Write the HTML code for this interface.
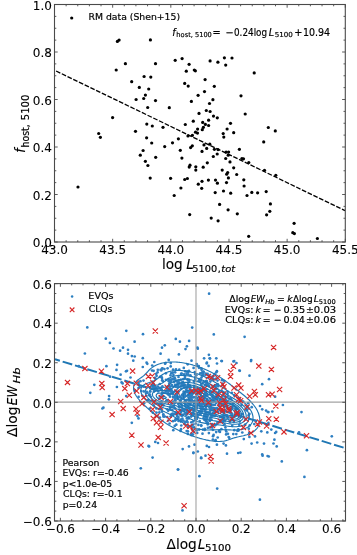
<!DOCTYPE html><html><head><meta charset="utf-8"><style>html,body{margin:0;padding:0;background:#fff;overflow:hidden}svg{display:block}</style></head><body><svg width="357" height="555" viewBox="0 0 357 555" font-family="'DejaVu Sans', sans-serif"><path d="M55 70.5L345 210.6" stroke="#000" stroke-width="1.3" stroke-dasharray="4.7 1.65" stroke-dashoffset="5.15" fill="none"/>
<g fill="#000"><circle cx="117.4" cy="41.4" r="1.6"/><circle cx="119.1" cy="40.1" r="1.6"/><circle cx="125.4" cy="63.7" r="1.6"/><circle cx="116.2" cy="70" r="1.6"/><circle cx="112.6" cy="117.6" r="1.6"/><circle cx="98.7" cy="133.5" r="1.6"/><circle cx="100.4" cy="137.3" r="1.6"/><circle cx="78" cy="187" r="1.6"/><circle cx="150.4" cy="39.9" r="1.6"/><circle cx="155.5" cy="63.7" r="1.6"/><circle cx="175.2" cy="60.3" r="1.6"/><circle cx="182.1" cy="58.6" r="1.6"/><circle cx="189.1" cy="64.3" r="1.6"/><circle cx="186.3" cy="71.2" r="1.6"/><circle cx="194.3" cy="70" r="1.6"/><circle cx="195.4" cy="70.8" r="1.6"/><circle cx="144.1" cy="76.5" r="1.6"/><circle cx="150.8" cy="77.1" r="1.6"/><circle cx="131.7" cy="81.7" r="1.6"/><circle cx="184.7" cy="83.4" r="1.6"/><circle cx="188.2" cy="86.1" r="1.6"/><circle cx="139.3" cy="87.4" r="1.6"/><circle cx="148.7" cy="89" r="1.6"/><circle cx="145.4" cy="95.1" r="1.6"/><circle cx="136.1" cy="99.5" r="1.6"/><circle cx="143.7" cy="98.5" r="1.6"/><circle cx="155.5" cy="100.6" r="1.6"/><circle cx="198.1" cy="95.3" r="1.6"/><circle cx="191.4" cy="101.4" r="1.6"/><circle cx="147.7" cy="107.5" r="1.6"/><circle cx="169.3" cy="107.7" r="1.6"/><circle cx="199" cy="113.4" r="1.6"/><circle cx="146.8" cy="124.1" r="1.6"/><circle cx="152.3" cy="126" r="1.6"/><circle cx="163" cy="127.3" r="1.6"/><circle cx="185.3" cy="124.5" r="1.6"/><circle cx="193.3" cy="121.2" r="1.6"/><circle cx="135.5" cy="131.3" r="1.6"/><circle cx="146.6" cy="137.8" r="1.6"/><circle cx="178.4" cy="138.8" r="1.6"/><circle cx="188" cy="135.9" r="1.6"/><circle cx="192.4" cy="135.3" r="1.6"/><circle cx="197.6" cy="129.1" r="1.6"/><circle cx="195.5" cy="132.2" r="1.6"/><circle cx="197.5" cy="133.1" r="1.6"/><circle cx="151.7" cy="143" r="1.6"/><circle cx="164.7" cy="146.6" r="1.6"/><circle cx="172.5" cy="142.8" r="1.6"/><circle cx="143.1" cy="150.5" r="1.6"/><circle cx="140.3" cy="155.2" r="1.6"/><circle cx="155.7" cy="157.3" r="1.6"/><circle cx="180.3" cy="150.3" r="1.6"/><circle cx="181.9" cy="158.1" r="1.6"/><circle cx="190.6" cy="147.6" r="1.6"/><circle cx="192.3" cy="145.8" r="1.6"/><circle cx="145.4" cy="161.3" r="1.6"/><circle cx="147.9" cy="165.5" r="1.6"/><circle cx="189.2" cy="167.1" r="1.6"/><circle cx="190" cy="165.2" r="1.6"/><circle cx="195.8" cy="166.8" r="1.6"/><circle cx="195.8" cy="170.1" r="1.6"/><circle cx="150.2" cy="178.1" r="1.6"/><circle cx="170.6" cy="178.3" r="1.6"/><circle cx="184.7" cy="179.5" r="1.6"/><circle cx="187.4" cy="178.5" r="1.6"/><circle cx="198.3" cy="184.2" r="1.6"/><circle cx="180.9" cy="188" r="1.6"/><circle cx="174.2" cy="195.5" r="1.6"/><circle cx="189.7" cy="214.6" r="1.6"/><circle cx="210.1" cy="60.9" r="1.6"/><circle cx="217.9" cy="62.2" r="1.6"/><circle cx="224.4" cy="57.8" r="1.6"/><circle cx="232" cy="58" r="1.6"/><circle cx="225.7" cy="65.1" r="1.6"/><circle cx="254.2" cy="72.9" r="1.6"/><circle cx="205.1" cy="79.6" r="1.6"/><circle cx="214.3" cy="86.3" r="1.6"/><circle cx="204.5" cy="91.6" r="1.6"/><circle cx="241" cy="95.8" r="1.6"/><circle cx="212.9" cy="99.7" r="1.6"/><circle cx="209.5" cy="103.5" r="1.6"/><circle cx="206.3" cy="110.5" r="1.6"/><circle cx="210.1" cy="111.5" r="1.6"/><circle cx="245.2" cy="114" r="1.6"/><circle cx="213.5" cy="116.1" r="1.6"/><circle cx="217.3" cy="117.8" r="1.6"/><circle cx="208.6" cy="120.2" r="1.6"/><circle cx="202.7" cy="122.4" r="1.6"/><circle cx="205.4" cy="124.4" r="1.6"/><circle cx="208.6" cy="125.5" r="1.6"/><circle cx="203.4" cy="127.3" r="1.6"/><circle cx="202.3" cy="129.7" r="1.6"/><circle cx="230.5" cy="123.3" r="1.6"/><circle cx="227.1" cy="129" r="1.6"/><circle cx="233.7" cy="132.7" r="1.6"/><circle cx="223.2" cy="133.6" r="1.6"/><circle cx="223.8" cy="137.1" r="1.6"/><circle cx="268.3" cy="127.5" r="1.6"/><circle cx="204" cy="144.9" r="1.6"/><circle cx="209.8" cy="144.2" r="1.6"/><circle cx="206.7" cy="148.4" r="1.6"/><circle cx="202" cy="151.4" r="1.6"/><circle cx="214.4" cy="149.3" r="1.6"/><circle cx="218" cy="149.6" r="1.6"/><circle cx="217.2" cy="154" r="1.6"/><circle cx="213.3" cy="156.5" r="1.6"/><circle cx="226.1" cy="152.1" r="1.6"/><circle cx="228.6" cy="152" r="1.6"/><circle cx="228.2" cy="155.2" r="1.6"/><circle cx="225.7" cy="158.5" r="1.6"/><circle cx="230" cy="161.9" r="1.6"/><circle cx="207.3" cy="162.8" r="1.6"/><circle cx="263.7" cy="141.9" r="1.6"/><circle cx="239.4" cy="149.3" r="1.6"/><circle cx="241.9" cy="158.5" r="1.6"/><circle cx="243.5" cy="158.8" r="1.6"/><circle cx="248.8" cy="162.5" r="1.6"/><circle cx="203.2" cy="167.2" r="1.6"/><circle cx="222.2" cy="170.1" r="1.6"/><circle cx="227.7" cy="172.5" r="1.6"/><circle cx="226.7" cy="174.2" r="1.6"/><circle cx="233.7" cy="167.8" r="1.6"/><circle cx="228.4" cy="177.9" r="1.6"/><circle cx="202" cy="181.3" r="1.6"/><circle cx="208.4" cy="180.1" r="1.6"/><circle cx="215.5" cy="180.1" r="1.6"/><circle cx="217.4" cy="183.2" r="1.6"/><circle cx="226.5" cy="182.6" r="1.6"/><circle cx="201.7" cy="188.3" r="1.6"/><circle cx="215.2" cy="192.6" r="1.6"/><circle cx="223.5" cy="191" r="1.6"/><circle cx="230.7" cy="193.2" r="1.6"/><circle cx="219.6" cy="204.4" r="1.6"/><circle cx="228.1" cy="209.8" r="1.6"/><circle cx="237.3" cy="213.8" r="1.6"/><circle cx="211.2" cy="218.1" r="1.6"/><circle cx="218.1" cy="220.8" r="1.6"/><circle cx="236.7" cy="174.5" r="1.6"/><circle cx="243.8" cy="179.8" r="1.6"/><circle cx="244.1" cy="186" r="1.6"/><circle cx="264.5" cy="170.3" r="1.6"/><circle cx="247" cy="195.5" r="1.6"/><circle cx="251.8" cy="192.4" r="1.6"/><circle cx="257.6" cy="192.8" r="1.6"/><circle cx="266.2" cy="191.6" r="1.6"/><circle cx="270.4" cy="203.9" r="1.6"/><circle cx="269.8" cy="211.3" r="1.6"/><circle cx="266.6" cy="214.8" r="1.6"/><circle cx="248.7" cy="236.3" r="1.6"/><circle cx="275.3" cy="130.9" r="1.6"/><circle cx="275.8" cy="175.3" r="1.6"/><circle cx="294.1" cy="223.3" r="1.6"/><circle cx="292.8" cy="232.7" r="1.6"/><circle cx="294.4" cy="233.6" r="1.6"/><circle cx="317.4" cy="238.5" r="1.6"/></g>
<path d="M54.50 242.0v-3.2M54.50 4.5v3.2M112.66 242.0v-3.2M112.66 4.5v3.2M170.82 242.0v-3.2M170.82 4.5v3.2M228.98 242.0v-3.2M228.98 4.5v3.2M287.14 242.0v-3.2M287.14 4.5v3.2M345.30 242.0v-3.2M345.30 4.5v3.2" stroke="#4a4a4a" stroke-width="0.9" fill="none"/>
<path d="M66.13 242.0v-1.8M66.13 4.5v1.8M77.76 242.0v-1.8M77.76 4.5v1.8M89.40 242.0v-1.8M89.40 4.5v1.8M101.03 242.0v-1.8M101.03 4.5v1.8M124.29 242.0v-1.8M124.29 4.5v1.8M135.92 242.0v-1.8M135.92 4.5v1.8M147.56 242.0v-1.8M147.56 4.5v1.8M159.19 242.0v-1.8M159.19 4.5v1.8M182.45 242.0v-1.8M182.45 4.5v1.8M194.08 242.0v-1.8M194.08 4.5v1.8M205.72 242.0v-1.8M205.72 4.5v1.8M217.35 242.0v-1.8M217.35 4.5v1.8M240.61 242.0v-1.8M240.61 4.5v1.8M252.24 242.0v-1.8M252.24 4.5v1.8M263.88 242.0v-1.8M263.88 4.5v1.8M275.51 242.0v-1.8M275.51 4.5v1.8M298.77 242.0v-1.8M298.77 4.5v1.8M310.40 242.0v-1.8M310.40 4.5v1.8M322.04 242.0v-1.8M322.04 4.5v1.8M333.67 242.0v-1.8M333.67 4.5v1.8" stroke="#4a4a4a" stroke-width="0.9" fill="none"/>
<path d="M54.5 242.00h3.2M345.3 242.00h-3.2M54.5 194.50h3.2M345.3 194.50h-3.2M54.5 147.00h3.2M345.3 147.00h-3.2M54.5 99.50h3.2M345.3 99.50h-3.2M54.5 52.00h3.2M345.3 52.00h-3.2M54.5 4.50h3.2M345.3 4.50h-3.2" stroke="#4a4a4a" stroke-width="0.9" fill="none"/>
<path d="M54.5 230.12h1.8M345.3 230.12h-1.8M54.5 218.25h1.8M345.3 218.25h-1.8M54.5 206.38h1.8M345.3 206.38h-1.8M54.5 182.62h1.8M345.3 182.62h-1.8M54.5 170.75h1.8M345.3 170.75h-1.8M54.5 158.88h1.8M345.3 158.88h-1.8M54.5 135.12h1.8M345.3 135.12h-1.8M54.5 123.25h1.8M345.3 123.25h-1.8M54.5 111.38h1.8M345.3 111.38h-1.8M54.5 87.62h1.8M345.3 87.62h-1.8M54.5 75.75h1.8M345.3 75.75h-1.8M54.5 63.88h1.8M345.3 63.88h-1.8M54.5 40.12h1.8M345.3 40.12h-1.8M54.5 28.25h1.8M345.3 28.25h-1.8M54.5 16.37h1.8M345.3 16.37h-1.8" stroke="#4a4a4a" stroke-width="0.9" fill="none"/>
<text x="54.50" y="254.30" font-size="12" text-anchor="middle" stroke="#000" stroke-width="0.1" >43.0</text>
<text x="112.66" y="254.30" font-size="12" text-anchor="middle" stroke="#000" stroke-width="0.1" >43.5</text>
<text x="170.82" y="254.30" font-size="12" text-anchor="middle" stroke="#000" stroke-width="0.1" >44.0</text>
<text x="228.98" y="254.30" font-size="12" text-anchor="middle" stroke="#000" stroke-width="0.1" >44.5</text>
<text x="287.14" y="254.30" font-size="12" text-anchor="middle" stroke="#000" stroke-width="0.1" >45.0</text>
<text x="345.30" y="254.30" font-size="12" text-anchor="middle" stroke="#000" stroke-width="0.1" >45.5</text>
<text x="51.90" y="247.00" font-size="12" text-anchor="end" stroke="#000" stroke-width="0.1" >0.0</text>
<text x="51.90" y="199.50" font-size="12" text-anchor="end" stroke="#000" stroke-width="0.1" >0.2</text>
<text x="51.90" y="152.00" font-size="12" text-anchor="end" stroke="#000" stroke-width="0.1" >0.4</text>
<text x="51.90" y="104.50" font-size="12" text-anchor="end" stroke="#000" stroke-width="0.1" >0.6</text>
<text x="51.90" y="57.00" font-size="12" text-anchor="end" stroke="#000" stroke-width="0.1" >0.8</text>
<text x="51.90" y="9.50" font-size="12" text-anchor="end" stroke="#000" stroke-width="0.1" >1.0</text>
<circle cx="71.7" cy="18" r="1.6" fill="#000"/>
<text x="88.49" y="20.20" font-size="9.2" stroke="#000" stroke-width="0.18" textLength="91.59" lengthAdjust="spacingAndGlyphs">RM data (Shen+15)</text>
<text x="172.15" y="35.60" font-size="9.7" font-style="italic" stroke="#000" stroke-width="0.18" textLength="3.42" lengthAdjust="spacingAndGlyphs">f</text>
<text x="176.29" y="37.30" font-size="6.8" stroke="#000" stroke-width="0.18" textLength="16.66" lengthAdjust="spacingAndGlyphs">host,</text>
<text x="195.09" y="37.30" font-size="6.8" stroke="#000" stroke-width="0.18" textLength="16.74" lengthAdjust="spacingAndGlyphs">5100</text>
<text x="212.58" y="35.60" font-size="9.7" stroke="#000" stroke-width="0.18" textLength="8.13" lengthAdjust="spacingAndGlyphs">=</text>
<text x="225.58" y="35.60" font-size="9.7" stroke="#000" stroke-width="0.18" textLength="8.13" lengthAdjust="spacingAndGlyphs">−</text>
<text x="234.03" y="35.60" font-size="9.7" stroke="#000" stroke-width="0.18" textLength="33.05" lengthAdjust="spacingAndGlyphs">0.24log</text>
<text x="268.83" y="35.60" font-size="9.7" font-style="italic" stroke="#000" stroke-width="0.18" textLength="5.40" lengthAdjust="spacingAndGlyphs">L</text>
<text x="274.65" y="37.30" font-size="6.8" stroke="#000" stroke-width="0.18" textLength="18.11" lengthAdjust="spacingAndGlyphs">5100</text>
<text x="294.18" y="35.60" font-size="9.7" stroke="#000" stroke-width="0.18" textLength="8.13" lengthAdjust="spacingAndGlyphs">+</text>
<text x="302.96" y="35.60" font-size="9.7" stroke="#000" stroke-width="0.18" textLength="27.17" lengthAdjust="spacingAndGlyphs">10.94</text>
<text x="161.90" y="268.60" font-size="13.6" stroke="#000" stroke-width="0.1" textLength="20.82" lengthAdjust="spacingAndGlyphs">log</text>
<text x="186.23" y="268.60" font-size="13.6" font-style="italic" stroke="#000" stroke-width="0.1" textLength="7.58" lengthAdjust="spacingAndGlyphs">L</text>
<text x="192.34" y="272.10" font-size="9.5" stroke="#000" stroke-width="0.18" textLength="24.89" lengthAdjust="spacingAndGlyphs">5100</text>
<text x="217.66" y="272.10" font-size="9.5" stroke="#000" stroke-width="0.18" textLength="3.02" lengthAdjust="spacingAndGlyphs">,</text>
<text x="221.36" y="272.10" font-size="9.5" font-style="italic" stroke="#000" stroke-width="0.18" textLength="13.83" lengthAdjust="spacingAndGlyphs">tot</text>
<text x="-152.84" y="25.40" font-size="13.8" font-style="italic" transform="rotate(-90)" stroke="#000" stroke-width="0.1" textLength="4.38" lengthAdjust="spacingAndGlyphs">f</text>
<text x="-147.44" y="29.40" font-size="9.7" transform="rotate(-90)" stroke="#000" stroke-width="0.18" textLength="23.14" lengthAdjust="spacingAndGlyphs">host,</text>
<text x="-120.28" y="29.40" font-size="9.7" transform="rotate(-90)" stroke="#000" stroke-width="0.18" textLength="25.64" lengthAdjust="spacingAndGlyphs">5100</text>
<rect x="54.5" y="4.5" width="290.80" height="237.50" fill="none" stroke="#4a4a4a" stroke-width="1.1"/>
<path d="M55 359.3L345.5 448.2" stroke="#1f77b4" stroke-width="2" stroke-dasharray="10 2.9" stroke-dashoffset="4.9" fill="none"/>
<g fill="#2e7fc2"><circle cx="87.3" cy="327.4" r="1.35"/><circle cx="126.3" cy="330.8" r="1.35"/><circle cx="105.8" cy="338.7" r="1.35"/><circle cx="109.9" cy="342.9" r="1.35"/><circle cx="134.6" cy="341.7" r="1.35"/><circle cx="143.0" cy="334.2" r="1.35"/><circle cx="175.8" cy="338.9" r="1.35"/><circle cx="179.9" cy="341.7" r="1.35"/><circle cx="189.1" cy="340.9" r="1.35"/><circle cx="192.2" cy="327.6" r="1.35"/><circle cx="209.1" cy="293.7" r="1.35"/><circle cx="213.8" cy="334.4" r="1.35"/><circle cx="244.6" cy="336.8" r="1.35"/><circle cx="84.9" cy="353.5" r="1.35"/><circle cx="113.5" cy="348.5" r="1.35"/><circle cx="120.1" cy="350.7" r="1.35"/><circle cx="123.0" cy="347.7" r="1.35"/><circle cx="106.4" cy="366.2" r="1.35"/><circle cx="117.1" cy="364.8" r="1.35"/><circle cx="116.5" cy="369.9" r="1.35"/><circle cx="120.6" cy="374.7" r="1.35"/><circle cx="126.0" cy="371.3" r="1.35"/><circle cx="110.1" cy="376.7" r="1.35"/><circle cx="121.6" cy="382.4" r="1.35"/><circle cx="122.6" cy="383.4" r="1.35"/><circle cx="94.3" cy="384.8" r="1.35"/><circle cx="116.9" cy="387.0" r="1.35"/><circle cx="90.3" cy="392.8" r="1.35"/><circle cx="109.1" cy="396.1" r="1.35"/><circle cx="108.9" cy="399.3" r="1.35"/><circle cx="126.2" cy="396.1" r="1.35"/><circle cx="78.8" cy="366.2" r="1.35"/><circle cx="128.0" cy="349.8" r="1.35"/><circle cx="128.0" cy="353.7" r="1.35"/><circle cx="131.9" cy="356.1" r="1.35"/><circle cx="134.7" cy="356.5" r="1.35"/><circle cx="133.3" cy="360.7" r="1.35"/><circle cx="142.8" cy="358.2" r="1.35"/><circle cx="162.0" cy="347.7" r="1.35"/><circle cx="164.8" cy="345.3" r="1.35"/><circle cx="160.6" cy="353.7" r="1.35"/><circle cx="146.6" cy="362.7" r="1.35"/><circle cx="147.3" cy="363.8" r="1.35"/><circle cx="154.3" cy="362.0" r="1.35"/><circle cx="152.2" cy="365.5" r="1.35"/><circle cx="142.8" cy="367.0" r="1.35"/><circle cx="127.0" cy="370.8" r="1.35"/><circle cx="130.5" cy="377.5" r="1.35"/><circle cx="153.6" cy="370.8" r="1.35"/><circle cx="157.8" cy="369.8" r="1.35"/><circle cx="160.6" cy="369.8" r="1.35"/><circle cx="162.0" cy="368.7" r="1.35"/><circle cx="102.4" cy="408.5" r="1.35"/><circle cx="103.4" cy="407.7" r="1.35"/><circle cx="269.0" cy="379.2" r="1.35"/><circle cx="275.1" cy="396.7" r="1.35"/><circle cx="282.9" cy="405.0" r="1.35"/><circle cx="268.4" cy="412.1" r="1.35"/><circle cx="266.1" cy="410.6" r="1.35"/><circle cx="301.5" cy="412.1" r="1.35"/><circle cx="268.4" cy="422.9" r="1.35"/><circle cx="271.3" cy="429.6" r="1.35"/><circle cx="276.2" cy="431.9" r="1.35"/><circle cx="275.1" cy="433.0" r="1.35"/><circle cx="331.8" cy="436.3" r="1.35"/><circle cx="274.4" cy="439.7" r="1.35"/><circle cx="273.5" cy="443.5" r="1.35"/><circle cx="276.7" cy="446.4" r="1.35"/><circle cx="306.9" cy="450.2" r="1.35"/><circle cx="299.0" cy="432.3" r="1.35"/><circle cx="268.8" cy="456.5" r="1.35"/><circle cx="281.8" cy="461.4" r="1.35"/><circle cx="304.4" cy="476.9" r="1.35"/><circle cx="186.9" cy="346.3" r="1.35"/><circle cx="185.5" cy="349.1" r="1.35"/><circle cx="197.4" cy="347.7" r="1.35"/><circle cx="197.8" cy="348.7" r="1.35"/><circle cx="178.9" cy="354.4" r="1.35"/><circle cx="191.5" cy="360.7" r="1.35"/><circle cx="208.9" cy="354.8" r="1.35"/><circle cx="204.1" cy="358.3" r="1.35"/><circle cx="209.7" cy="358.3" r="1.35"/><circle cx="216.3" cy="358.3" r="1.35"/><circle cx="206.9" cy="362.7" r="1.35"/><circle cx="217.0" cy="363.5" r="1.35"/><circle cx="208.6" cy="365.9" r="1.35"/><circle cx="196.7" cy="364.1" r="1.35"/><circle cx="197.4" cy="365.9" r="1.35"/><circle cx="198.8" cy="366.0" r="1.35"/><circle cx="201.6" cy="369.8" r="1.35"/><circle cx="168.7" cy="359.9" r="1.35"/><circle cx="210.0" cy="358.4" r="1.35"/><circle cx="221.4" cy="361.0" r="1.35"/><circle cx="233.5" cy="361.4" r="1.35"/><circle cx="236.5" cy="363.0" r="1.35"/><circle cx="251.2" cy="360.0" r="1.35"/><circle cx="239.4" cy="370.6" r="1.35"/><circle cx="216.9" cy="371.2" r="1.35"/><circle cx="131.8" cy="422.8" r="1.35"/><circle cx="137.4" cy="416.1" r="1.35"/><circle cx="138.5" cy="418.4" r="1.35"/><circle cx="149.1" cy="446.4" r="1.35"/><circle cx="155.3" cy="441.9" r="1.35"/><circle cx="158.0" cy="443.0" r="1.35"/><circle cx="152.6" cy="457.6" r="1.35"/><circle cx="140.8" cy="468.3" r="1.35"/><circle cx="173.3" cy="430.2" r="1.35"/><circle cx="182.7" cy="449.1" r="1.35"/><circle cx="178.2" cy="469.5" r="1.35"/><circle cx="193.4" cy="453.1" r="1.35"/><circle cx="189.0" cy="446.4" r="1.35"/><circle cx="148.5" cy="445.9" r="1.35"/><circle cx="177.9" cy="469.5" r="1.35"/><circle cx="201.1" cy="457.7" r="1.35"/><circle cx="205.5" cy="455.7" r="1.35"/><circle cx="199.4" cy="476.2" r="1.35"/><circle cx="217.2" cy="488.6" r="1.35"/><circle cx="259.9" cy="499.7" r="1.35"/><circle cx="262.6" cy="455.7" r="1.35"/><circle cx="267.6" cy="456.0" r="1.35"/><circle cx="182.5" cy="510.4" r="1.35"/><circle cx="221.9" cy="361.1" r="1.35"/><circle cx="234.2" cy="361.1" r="1.35"/><circle cx="206.7" cy="363.4" r="1.35"/><circle cx="239.8" cy="370.8" r="1.35"/><circle cx="216.3" cy="372.3" r="1.35"/><circle cx="249.5" cy="375.7" r="1.35"/><circle cx="251.0" cy="361.1" r="1.35"/><circle cx="262.2" cy="384.2" r="1.35"/><circle cx="260.0" cy="406.0" r="1.35"/><circle cx="262.2" cy="409.3" r="1.35"/><circle cx="267.8" cy="412.0" r="1.35"/><circle cx="272.3" cy="411.5" r="1.35"/><circle cx="201.2" cy="458.2" r="1.35"/><circle cx="227.0" cy="453.7" r="1.35"/><circle cx="238.2" cy="453.0" r="1.35"/><circle cx="240.4" cy="452.6" r="1.35"/><circle cx="262.2" cy="454.4" r="1.35"/><circle cx="216.9" cy="444.7" r="1.35"/><circle cx="223.6" cy="443.6" r="1.35"/><circle cx="225.9" cy="445.4" r="1.35"/><circle cx="243.8" cy="439.1" r="1.35"/><circle cx="249.4" cy="436.9" r="1.35"/><circle cx="257.2" cy="442.5" r="1.35"/><circle cx="264.0" cy="443.6" r="1.35"/><circle cx="194.5" cy="444.7" r="1.35"/><circle cx="193.4" cy="452.6" r="1.35"/><circle cx="197.8" cy="451.5" r="1.35"/><circle cx="206.8" cy="445.9" r="1.35"/><circle cx="209.0" cy="447.0" r="1.35"/><circle cx="255.0" cy="436.4" r="1.35"/><circle cx="261.3" cy="431.3" r="1.35"/><circle cx="267.3" cy="432.4" r="1.35"/><circle cx="251.6" cy="443.6" r="1.35"/><circle cx="192.2" cy="400.8" r="1.35"/><circle cx="245.5" cy="419.3" r="1.35"/><circle cx="221.4" cy="411.6" r="1.35"/><circle cx="191.9" cy="394.1" r="1.35"/><circle cx="200.5" cy="414.0" r="1.35"/><circle cx="222.7" cy="395.7" r="1.35"/><circle cx="155.6" cy="378.9" r="1.35"/><circle cx="206.7" cy="394.7" r="1.35"/><circle cx="185.2" cy="371.3" r="1.35"/><circle cx="171.0" cy="379.6" r="1.35"/><circle cx="195.0" cy="407.5" r="1.35"/><circle cx="213.5" cy="392.1" r="1.35"/><circle cx="212.5" cy="379.3" r="1.35"/><circle cx="161.7" cy="394.6" r="1.35"/><circle cx="227.1" cy="408.4" r="1.35"/><circle cx="208.8" cy="412.5" r="1.35"/><circle cx="210.3" cy="410.9" r="1.35"/><circle cx="213.2" cy="398.1" r="1.35"/><circle cx="170.7" cy="416.6" r="1.35"/><circle cx="210.4" cy="381.6" r="1.35"/><circle cx="217.0" cy="399.4" r="1.35"/><circle cx="193.6" cy="367.9" r="1.35"/><circle cx="193.2" cy="421.4" r="1.35"/><circle cx="200.7" cy="411.4" r="1.35"/><circle cx="191.9" cy="415.1" r="1.35"/><circle cx="188.3" cy="405.0" r="1.35"/><circle cx="206.8" cy="381.2" r="1.35"/><circle cx="203.1" cy="400.3" r="1.35"/><circle cx="207.2" cy="399.1" r="1.35"/><circle cx="193.9" cy="381.7" r="1.35"/><circle cx="187.7" cy="387.6" r="1.35"/><circle cx="182.4" cy="418.5" r="1.35"/><circle cx="205.5" cy="401.5" r="1.35"/><circle cx="192.4" cy="401.5" r="1.35"/><circle cx="182.7" cy="410.0" r="1.35"/><circle cx="173.0" cy="396.9" r="1.35"/><circle cx="208.3" cy="403.3" r="1.35"/><circle cx="150.3" cy="387.6" r="1.35"/><circle cx="218.9" cy="431.0" r="1.35"/><circle cx="212.6" cy="425.9" r="1.35"/><circle cx="201.6" cy="409.8" r="1.35"/><circle cx="246.6" cy="410.4" r="1.35"/><circle cx="216.8" cy="395.6" r="1.35"/><circle cx="177.8" cy="397.9" r="1.35"/><circle cx="195.2" cy="418.5" r="1.35"/><circle cx="232.4" cy="419.4" r="1.35"/><circle cx="176.1" cy="386.6" r="1.35"/><circle cx="181.3" cy="388.8" r="1.35"/><circle cx="199.9" cy="404.4" r="1.35"/><circle cx="204.8" cy="428.8" r="1.35"/><circle cx="235.6" cy="414.9" r="1.35"/><circle cx="185.3" cy="392.0" r="1.35"/><circle cx="231.2" cy="409.5" r="1.35"/><circle cx="194.8" cy="372.1" r="1.35"/><circle cx="179.7" cy="402.8" r="1.35"/><circle cx="161.3" cy="403.5" r="1.35"/><circle cx="204.2" cy="402.6" r="1.35"/><circle cx="175.8" cy="418.7" r="1.35"/><circle cx="248.6" cy="415.4" r="1.35"/><circle cx="178.5" cy="421.0" r="1.35"/><circle cx="207.4" cy="395.8" r="1.35"/><circle cx="178.3" cy="404.0" r="1.35"/><circle cx="207.2" cy="422.4" r="1.35"/><circle cx="225.0" cy="420.8" r="1.35"/><circle cx="171.4" cy="391.2" r="1.35"/><circle cx="173.0" cy="415.1" r="1.35"/><circle cx="205.0" cy="385.3" r="1.35"/><circle cx="176.0" cy="396.3" r="1.35"/><circle cx="206.9" cy="406.0" r="1.35"/><circle cx="208.9" cy="433.1" r="1.35"/><circle cx="150.9" cy="396.8" r="1.35"/><circle cx="179.9" cy="407.0" r="1.35"/><circle cx="171.5" cy="414.2" r="1.35"/><circle cx="192.8" cy="391.1" r="1.35"/><circle cx="183.4" cy="393.4" r="1.35"/><circle cx="167.2" cy="409.3" r="1.35"/><circle cx="227.7" cy="402.6" r="1.35"/><circle cx="167.5" cy="389.6" r="1.35"/><circle cx="175.3" cy="408.6" r="1.35"/><circle cx="201.9" cy="403.1" r="1.35"/><circle cx="213.0" cy="378.5" r="1.35"/><circle cx="200.1" cy="400.6" r="1.35"/><circle cx="196.9" cy="393.5" r="1.35"/><circle cx="208.2" cy="404.3" r="1.35"/><circle cx="161.0" cy="408.9" r="1.35"/><circle cx="248.8" cy="428.7" r="1.35"/><circle cx="183.6" cy="386.4" r="1.35"/><circle cx="180.9" cy="379.8" r="1.35"/><circle cx="159.2" cy="405.2" r="1.35"/><circle cx="182.5" cy="415.0" r="1.35"/><circle cx="169.9" cy="388.4" r="1.35"/><circle cx="239.5" cy="401.9" r="1.35"/><circle cx="181.1" cy="373.8" r="1.35"/><circle cx="185.7" cy="404.4" r="1.35"/><circle cx="232.4" cy="416.6" r="1.35"/><circle cx="186.3" cy="389.2" r="1.35"/><circle cx="179.4" cy="382.8" r="1.35"/><circle cx="173.0" cy="392.2" r="1.35"/><circle cx="210.3" cy="420.1" r="1.35"/><circle cx="180.7" cy="386.4" r="1.35"/><circle cx="196.8" cy="408.6" r="1.35"/><circle cx="170.5" cy="375.3" r="1.35"/><circle cx="183.7" cy="391.6" r="1.35"/><circle cx="198.6" cy="380.9" r="1.35"/><circle cx="204.3" cy="389.4" r="1.35"/><circle cx="196.5" cy="415.0" r="1.35"/><circle cx="216.3" cy="399.1" r="1.35"/><circle cx="202.8" cy="373.7" r="1.35"/><circle cx="180.8" cy="421.6" r="1.35"/><circle cx="178.4" cy="416.9" r="1.35"/><circle cx="138.6" cy="383.0" r="1.35"/><circle cx="204.1" cy="398.3" r="1.35"/><circle cx="159.0" cy="398.8" r="1.35"/><circle cx="194.7" cy="386.6" r="1.35"/><circle cx="195.1" cy="391.5" r="1.35"/><circle cx="205.3" cy="415.7" r="1.35"/><circle cx="182.4" cy="420.5" r="1.35"/><circle cx="176.5" cy="413.8" r="1.35"/><circle cx="182.5" cy="382.1" r="1.35"/><circle cx="183.3" cy="420.6" r="1.35"/><circle cx="163.3" cy="414.4" r="1.35"/><circle cx="143.5" cy="386.6" r="1.35"/><circle cx="215.6" cy="440.2" r="1.35"/><circle cx="227.5" cy="396.6" r="1.35"/><circle cx="214.6" cy="385.8" r="1.35"/><circle cx="168.1" cy="390.8" r="1.35"/><circle cx="183.4" cy="395.7" r="1.35"/><circle cx="185.0" cy="378.1" r="1.35"/><circle cx="227.7" cy="417.2" r="1.35"/><circle cx="211.6" cy="404.6" r="1.35"/><circle cx="218.1" cy="396.9" r="1.35"/><circle cx="182.2" cy="415.6" r="1.35"/><circle cx="216.6" cy="424.2" r="1.35"/><circle cx="138.6" cy="396.9" r="1.35"/><circle cx="174.4" cy="403.6" r="1.35"/><circle cx="166.7" cy="400.7" r="1.35"/><circle cx="158.3" cy="391.4" r="1.35"/><circle cx="191.2" cy="435.1" r="1.35"/><circle cx="144.3" cy="403.1" r="1.35"/><circle cx="193.9" cy="385.8" r="1.35"/><circle cx="201.8" cy="404.8" r="1.35"/><circle cx="177.6" cy="381.4" r="1.35"/><circle cx="212.7" cy="386.9" r="1.35"/><circle cx="214.4" cy="408.9" r="1.35"/><circle cx="197.1" cy="401.6" r="1.35"/><circle cx="242.2" cy="414.2" r="1.35"/><circle cx="189.4" cy="393.7" r="1.35"/><circle cx="169.6" cy="423.5" r="1.35"/><circle cx="223.3" cy="404.8" r="1.35"/><circle cx="196.5" cy="419.0" r="1.35"/><circle cx="211.7" cy="402.0" r="1.35"/><circle cx="209.1" cy="375.7" r="1.35"/><circle cx="238.5" cy="430.6" r="1.35"/><circle cx="203.3" cy="375.4" r="1.35"/><circle cx="195.2" cy="377.3" r="1.35"/><circle cx="190.2" cy="387.0" r="1.35"/><circle cx="207.7" cy="384.9" r="1.35"/><circle cx="174.9" cy="399.9" r="1.35"/><circle cx="237.4" cy="430.8" r="1.35"/><circle cx="183.2" cy="383.6" r="1.35"/><circle cx="160.3" cy="402.3" r="1.35"/><circle cx="193.8" cy="431.8" r="1.35"/><circle cx="197.3" cy="388.0" r="1.35"/><circle cx="190.3" cy="387.2" r="1.35"/><circle cx="167.6" cy="368.3" r="1.35"/><circle cx="201.7" cy="404.0" r="1.35"/><circle cx="171.2" cy="406.8" r="1.35"/><circle cx="197.4" cy="415.3" r="1.35"/><circle cx="193.3" cy="412.4" r="1.35"/><circle cx="210.1" cy="391.7" r="1.35"/><circle cx="156.4" cy="408.4" r="1.35"/><circle cx="173.8" cy="405.9" r="1.35"/><circle cx="217.9" cy="396.2" r="1.35"/><circle cx="197.1" cy="398.2" r="1.35"/><circle cx="195.9" cy="398.2" r="1.35"/><circle cx="173.1" cy="369.6" r="1.35"/><circle cx="196.2" cy="388.4" r="1.35"/><circle cx="200.0" cy="381.6" r="1.35"/><circle cx="193.3" cy="424.5" r="1.35"/><circle cx="219.1" cy="391.4" r="1.35"/><circle cx="190.8" cy="393.2" r="1.35"/><circle cx="227.6" cy="393.8" r="1.35"/><circle cx="186.0" cy="407.3" r="1.35"/><circle cx="180.6" cy="396.9" r="1.35"/><circle cx="195.4" cy="408.8" r="1.35"/><circle cx="198.9" cy="391.0" r="1.35"/><circle cx="176.7" cy="393.7" r="1.35"/><circle cx="190.5" cy="397.4" r="1.35"/><circle cx="221.6" cy="416.9" r="1.35"/><circle cx="173.0" cy="421.2" r="1.35"/><circle cx="235.7" cy="407.9" r="1.35"/><circle cx="174.7" cy="425.9" r="1.35"/><circle cx="195.8" cy="419.5" r="1.35"/><circle cx="172.9" cy="394.0" r="1.35"/><circle cx="175.1" cy="420.6" r="1.35"/><circle cx="155.1" cy="386.4" r="1.35"/><circle cx="213.0" cy="436.2" r="1.35"/><circle cx="170.0" cy="396.7" r="1.35"/><circle cx="207.0" cy="385.6" r="1.35"/><circle cx="211.8" cy="376.9" r="1.35"/><circle cx="180.5" cy="400.4" r="1.35"/><circle cx="202.0" cy="403.3" r="1.35"/><circle cx="216.2" cy="378.6" r="1.35"/><circle cx="190.5" cy="389.7" r="1.35"/><circle cx="180.4" cy="414.0" r="1.35"/><circle cx="189.3" cy="404.4" r="1.35"/><circle cx="209.6" cy="413.2" r="1.35"/><circle cx="232.2" cy="425.8" r="1.35"/><circle cx="223.8" cy="412.8" r="1.35"/><circle cx="231.2" cy="399.3" r="1.35"/><circle cx="196.3" cy="388.4" r="1.35"/><circle cx="197.5" cy="400.0" r="1.35"/><circle cx="207.6" cy="373.9" r="1.35"/><circle cx="164.4" cy="369.1" r="1.35"/><circle cx="203.0" cy="387.6" r="1.35"/><circle cx="208.1" cy="400.8" r="1.35"/><circle cx="176.7" cy="419.4" r="1.35"/><circle cx="206.3" cy="383.9" r="1.35"/><circle cx="169.2" cy="389.7" r="1.35"/><circle cx="205.9" cy="408.2" r="1.35"/><circle cx="218.1" cy="396.8" r="1.35"/><circle cx="199.0" cy="401.0" r="1.35"/><circle cx="190.6" cy="400.6" r="1.35"/><circle cx="195.0" cy="389.8" r="1.35"/><circle cx="188.9" cy="379.5" r="1.35"/><circle cx="189.1" cy="410.5" r="1.35"/><circle cx="205.5" cy="381.7" r="1.35"/><circle cx="176.5" cy="386.9" r="1.35"/><circle cx="183.0" cy="414.8" r="1.35"/><circle cx="183.6" cy="386.6" r="1.35"/><circle cx="179.8" cy="414.3" r="1.35"/><circle cx="166.9" cy="387.8" r="1.35"/><circle cx="174.7" cy="397.3" r="1.35"/><circle cx="165.1" cy="392.5" r="1.35"/><circle cx="190.3" cy="409.9" r="1.35"/><circle cx="240.6" cy="416.9" r="1.35"/><circle cx="202.2" cy="391.4" r="1.35"/><circle cx="242.3" cy="432.5" r="1.35"/><circle cx="168.0" cy="393.9" r="1.35"/><circle cx="211.6" cy="416.7" r="1.35"/><circle cx="159.9" cy="417.6" r="1.35"/><circle cx="202.6" cy="408.2" r="1.35"/><circle cx="190.8" cy="396.8" r="1.35"/><circle cx="170.6" cy="406.7" r="1.35"/><circle cx="177.1" cy="381.1" r="1.35"/><circle cx="190.0" cy="385.5" r="1.35"/><circle cx="172.8" cy="372.7" r="1.35"/><circle cx="204.7" cy="390.0" r="1.35"/><circle cx="178.5" cy="377.0" r="1.35"/><circle cx="166.0" cy="379.8" r="1.35"/><circle cx="175.8" cy="394.4" r="1.35"/><circle cx="202.7" cy="407.9" r="1.35"/><circle cx="195.8" cy="423.5" r="1.35"/><circle cx="171.7" cy="391.0" r="1.35"/><circle cx="233.3" cy="434.1" r="1.35"/><circle cx="247.3" cy="406.7" r="1.35"/><circle cx="177.0" cy="414.0" r="1.35"/><circle cx="225.5" cy="404.8" r="1.35"/><circle cx="215.1" cy="385.4" r="1.35"/><circle cx="214.9" cy="386.3" r="1.35"/><circle cx="195.7" cy="402.4" r="1.35"/><circle cx="254.3" cy="424.1" r="1.35"/><circle cx="207.9" cy="412.4" r="1.35"/><circle cx="196.9" cy="394.6" r="1.35"/><circle cx="201.5" cy="377.6" r="1.35"/><circle cx="165.9" cy="373.3" r="1.35"/><circle cx="196.5" cy="392.0" r="1.35"/><circle cx="248.2" cy="403.2" r="1.35"/><circle cx="215.5" cy="415.8" r="1.35"/><circle cx="181.0" cy="429.2" r="1.35"/><circle cx="205.9" cy="403.7" r="1.35"/><circle cx="163.6" cy="405.3" r="1.35"/><circle cx="227.6" cy="391.7" r="1.35"/><circle cx="214.0" cy="397.6" r="1.35"/><circle cx="153.5" cy="384.5" r="1.35"/><circle cx="162.1" cy="411.7" r="1.35"/><circle cx="142.5" cy="395.9" r="1.35"/><circle cx="210.7" cy="414.6" r="1.35"/><circle cx="152.0" cy="370.5" r="1.35"/><circle cx="214.6" cy="374.2" r="1.35"/><circle cx="216.5" cy="408.2" r="1.35"/><circle cx="178.8" cy="407.0" r="1.35"/><circle cx="204.8" cy="401.8" r="1.35"/><circle cx="205.7" cy="417.8" r="1.35"/><circle cx="205.7" cy="373.6" r="1.35"/><circle cx="209.1" cy="401.8" r="1.35"/><circle cx="213.0" cy="412.5" r="1.35"/><circle cx="233.9" cy="421.9" r="1.35"/><circle cx="216.3" cy="388.5" r="1.35"/><circle cx="218.8" cy="396.0" r="1.35"/><circle cx="193.1" cy="405.3" r="1.35"/><circle cx="220.4" cy="398.8" r="1.35"/><circle cx="187.8" cy="392.2" r="1.35"/><circle cx="187.7" cy="418.4" r="1.35"/><circle cx="182.2" cy="407.8" r="1.35"/><circle cx="199.0" cy="367.8" r="1.35"/><circle cx="216.4" cy="394.5" r="1.35"/><circle cx="201.4" cy="385.6" r="1.35"/><circle cx="194.6" cy="401.2" r="1.35"/><circle cx="186.8" cy="418.4" r="1.35"/><circle cx="241.5" cy="405.1" r="1.35"/><circle cx="196.3" cy="375.3" r="1.35"/><circle cx="201.4" cy="368.5" r="1.35"/><circle cx="191.3" cy="413.6" r="1.35"/><circle cx="205.6" cy="374.8" r="1.35"/><circle cx="214.9" cy="404.9" r="1.35"/><circle cx="186.5" cy="373.9" r="1.35"/><circle cx="168.6" cy="394.8" r="1.35"/><circle cx="189.5" cy="394.7" r="1.35"/><circle cx="184.8" cy="405.7" r="1.35"/><circle cx="147.6" cy="400.4" r="1.35"/><circle cx="164.8" cy="416.6" r="1.35"/><circle cx="210.0" cy="408.6" r="1.35"/><circle cx="174.6" cy="408.1" r="1.35"/><circle cx="214.3" cy="415.8" r="1.35"/><circle cx="171.9" cy="386.2" r="1.35"/><circle cx="184.0" cy="409.3" r="1.35"/><circle cx="201.3" cy="425.8" r="1.35"/><circle cx="198.5" cy="402.3" r="1.35"/><circle cx="188.7" cy="417.9" r="1.35"/><circle cx="203.6" cy="418.2" r="1.35"/><circle cx="187.6" cy="411.1" r="1.35"/><circle cx="181.3" cy="425.5" r="1.35"/><circle cx="215.4" cy="399.0" r="1.35"/><circle cx="183.8" cy="367.9" r="1.35"/><circle cx="243.2" cy="401.6" r="1.35"/><circle cx="220.1" cy="416.6" r="1.35"/><circle cx="235.9" cy="410.0" r="1.35"/><circle cx="191.6" cy="394.6" r="1.35"/><circle cx="188.0" cy="371.6" r="1.35"/><circle cx="163.6" cy="396.3" r="1.35"/><circle cx="214.0" cy="410.4" r="1.35"/><circle cx="201.0" cy="380.4" r="1.35"/><circle cx="210.7" cy="417.4" r="1.35"/><circle cx="212.2" cy="408.5" r="1.35"/><circle cx="154.3" cy="391.1" r="1.35"/><circle cx="204.8" cy="414.0" r="1.35"/><circle cx="215.5" cy="412.6" r="1.35"/><circle cx="156.2" cy="373.8" r="1.35"/><circle cx="176.0" cy="380.9" r="1.35"/><circle cx="189.5" cy="398.2" r="1.35"/><circle cx="146.8" cy="391.9" r="1.35"/><circle cx="222.4" cy="405.0" r="1.35"/><circle cx="230.7" cy="413.6" r="1.35"/><circle cx="225.4" cy="396.9" r="1.35"/><circle cx="215.1" cy="411.3" r="1.35"/><circle cx="215.2" cy="425.3" r="1.35"/><circle cx="226.3" cy="431.5" r="1.35"/><circle cx="168.7" cy="391.5" r="1.35"/><circle cx="161.6" cy="402.0" r="1.35"/><circle cx="239.7" cy="421.6" r="1.35"/><circle cx="172.0" cy="385.0" r="1.35"/><circle cx="190.4" cy="375.3" r="1.35"/><circle cx="172.2" cy="392.9" r="1.35"/><circle cx="152.6" cy="381.9" r="1.35"/><circle cx="188.1" cy="372.1" r="1.35"/><circle cx="234.8" cy="416.2" r="1.35"/><circle cx="174.1" cy="382.1" r="1.35"/><circle cx="186.2" cy="407.8" r="1.35"/><circle cx="187.9" cy="431.3" r="1.35"/><circle cx="183.3" cy="379.2" r="1.35"/><circle cx="183.2" cy="398.9" r="1.35"/><circle cx="218.3" cy="393.0" r="1.35"/><circle cx="214.9" cy="399.5" r="1.35"/><circle cx="171.4" cy="393.2" r="1.35"/><circle cx="206.1" cy="421.4" r="1.35"/><circle cx="217.6" cy="384.2" r="1.35"/><circle cx="192.5" cy="429.9" r="1.35"/><circle cx="212.9" cy="415.6" r="1.35"/><circle cx="211.4" cy="419.6" r="1.35"/><circle cx="216.6" cy="389.0" r="1.35"/><circle cx="152.0" cy="401.0" r="1.35"/><circle cx="173.6" cy="397.5" r="1.35"/><circle cx="228.7" cy="437.0" r="1.35"/><circle cx="169.6" cy="380.4" r="1.35"/><circle cx="188.8" cy="391.2" r="1.35"/><circle cx="169.8" cy="409.1" r="1.35"/><circle cx="196.5" cy="430.2" r="1.35"/><circle cx="238.8" cy="416.0" r="1.35"/><circle cx="192.8" cy="392.3" r="1.35"/><circle cx="206.1" cy="419.1" r="1.35"/><circle cx="225.4" cy="427.4" r="1.35"/><circle cx="139.6" cy="387.2" r="1.35"/><circle cx="182.0" cy="395.1" r="1.35"/><circle cx="225.4" cy="401.6" r="1.35"/><circle cx="196.5" cy="391.0" r="1.35"/><circle cx="188.3" cy="387.0" r="1.35"/><circle cx="199.2" cy="379.1" r="1.35"/><circle cx="204.2" cy="409.1" r="1.35"/><circle cx="163.3" cy="414.8" r="1.35"/><circle cx="186.3" cy="415.1" r="1.35"/><circle cx="203.2" cy="403.7" r="1.35"/><circle cx="196.1" cy="396.9" r="1.35"/><circle cx="218.3" cy="386.2" r="1.35"/><circle cx="188.5" cy="407.9" r="1.35"/><circle cx="188.0" cy="433.9" r="1.35"/><circle cx="179.2" cy="380.5" r="1.35"/><circle cx="209.4" cy="407.4" r="1.35"/><circle cx="191.1" cy="416.6" r="1.35"/><circle cx="166.9" cy="400.5" r="1.35"/><circle cx="205.2" cy="393.4" r="1.35"/><circle cx="185.8" cy="400.4" r="1.35"/><circle cx="165.7" cy="401.8" r="1.35"/><circle cx="212.1" cy="408.7" r="1.35"/><circle cx="226.9" cy="407.4" r="1.35"/><circle cx="229.2" cy="437.8" r="1.35"/><circle cx="198.4" cy="390.7" r="1.35"/><circle cx="200.7" cy="392.7" r="1.35"/><circle cx="207.2" cy="403.5" r="1.35"/><circle cx="162.1" cy="405.0" r="1.35"/><circle cx="209.8" cy="403.1" r="1.35"/><circle cx="213.7" cy="401.8" r="1.35"/><circle cx="160.6" cy="387.8" r="1.35"/><circle cx="204.7" cy="394.6" r="1.35"/><circle cx="173.1" cy="401.6" r="1.35"/><circle cx="239.4" cy="398.4" r="1.35"/><circle cx="201.1" cy="425.3" r="1.35"/><circle cx="191.5" cy="433.5" r="1.35"/><circle cx="205.5" cy="396.7" r="1.35"/><circle cx="182.8" cy="383.0" r="1.35"/><circle cx="177.9" cy="382.0" r="1.35"/><circle cx="201.5" cy="390.4" r="1.35"/><circle cx="232.3" cy="407.1" r="1.35"/><circle cx="169.8" cy="382.9" r="1.35"/><circle cx="178.1" cy="386.7" r="1.35"/><circle cx="203.3" cy="402.2" r="1.35"/><circle cx="148.0" cy="400.1" r="1.35"/><circle cx="197.8" cy="399.8" r="1.35"/><circle cx="225.8" cy="430.0" r="1.35"/><circle cx="179.1" cy="406.2" r="1.35"/><circle cx="143.7" cy="391.4" r="1.35"/><circle cx="189.0" cy="400.1" r="1.35"/><circle cx="163.4" cy="416.6" r="1.35"/><circle cx="201.5" cy="407.5" r="1.35"/><circle cx="249.4" cy="413.9" r="1.35"/><circle cx="206.9" cy="399.6" r="1.35"/><circle cx="207.1" cy="395.1" r="1.35"/><circle cx="175.7" cy="413.1" r="1.35"/><circle cx="220.0" cy="421.9" r="1.35"/><circle cx="207.6" cy="415.4" r="1.35"/><circle cx="162.0" cy="377.9" r="1.35"/><circle cx="227.1" cy="415.6" r="1.35"/><circle cx="205.7" cy="419.7" r="1.35"/><circle cx="187.9" cy="379.9" r="1.35"/><circle cx="223.6" cy="417.5" r="1.35"/><circle cx="189.0" cy="370.9" r="1.35"/><circle cx="238.7" cy="412.9" r="1.35"/><circle cx="175.5" cy="419.8" r="1.35"/><circle cx="182.0" cy="405.8" r="1.35"/><circle cx="190.5" cy="405.2" r="1.35"/><circle cx="160.0" cy="376.9" r="1.35"/><circle cx="188.0" cy="395.2" r="1.35"/><circle cx="214.7" cy="399.5" r="1.35"/><circle cx="167.8" cy="401.5" r="1.35"/><circle cx="194.2" cy="403.0" r="1.35"/><circle cx="138.5" cy="388.0" r="1.35"/><circle cx="223.1" cy="412.1" r="1.35"/><circle cx="216.2" cy="432.1" r="1.35"/><circle cx="203.6" cy="372.0" r="1.35"/><circle cx="166.3" cy="391.5" r="1.35"/><circle cx="194.7" cy="406.4" r="1.35"/><circle cx="235.9" cy="409.1" r="1.35"/><circle cx="206.9" cy="416.9" r="1.35"/><circle cx="185.9" cy="391.5" r="1.35"/><circle cx="204.7" cy="429.9" r="1.35"/><circle cx="192.9" cy="412.9" r="1.35"/><circle cx="212.6" cy="397.5" r="1.35"/><circle cx="204.7" cy="393.5" r="1.35"/><circle cx="175.7" cy="398.5" r="1.35"/><circle cx="200.7" cy="394.1" r="1.35"/><circle cx="153.7" cy="405.4" r="1.35"/><circle cx="195.2" cy="379.1" r="1.35"/><circle cx="184.4" cy="410.9" r="1.35"/><circle cx="207.0" cy="419.4" r="1.35"/><circle cx="184.6" cy="397.1" r="1.35"/><circle cx="188.9" cy="393.1" r="1.35"/><circle cx="224.1" cy="380.8" r="1.35"/><circle cx="230.8" cy="409.8" r="1.35"/><circle cx="217.3" cy="384.7" r="1.35"/><circle cx="201.6" cy="391.1" r="1.35"/><circle cx="170.3" cy="409.3" r="1.35"/><circle cx="202.5" cy="433.7" r="1.35"/><circle cx="219.0" cy="404.1" r="1.35"/><circle cx="212.3" cy="394.5" r="1.35"/><circle cx="172.4" cy="410.1" r="1.35"/><circle cx="197.1" cy="413.0" r="1.35"/><circle cx="209.7" cy="419.2" r="1.35"/><circle cx="203.6" cy="389.6" r="1.35"/><circle cx="203.7" cy="382.2" r="1.35"/><circle cx="152.1" cy="385.2" r="1.35"/><circle cx="169.8" cy="380.4" r="1.35"/><circle cx="135.1" cy="390.7" r="1.35"/><circle cx="192.3" cy="408.0" r="1.35"/><circle cx="189.4" cy="401.2" r="1.35"/><circle cx="209.7" cy="421.0" r="1.35"/><circle cx="204.1" cy="415.8" r="1.35"/><circle cx="237.8" cy="412.3" r="1.35"/><circle cx="172.6" cy="394.0" r="1.35"/><circle cx="168.2" cy="410.8" r="1.35"/><circle cx="223.5" cy="419.8" r="1.35"/><circle cx="170.8" cy="363.1" r="1.35"/><circle cx="212.1" cy="424.1" r="1.35"/><circle cx="179.5" cy="396.4" r="1.35"/><circle cx="210.0" cy="398.6" r="1.35"/><circle cx="185.4" cy="402.5" r="1.35"/><circle cx="168.1" cy="386.3" r="1.35"/><circle cx="200.1" cy="405.0" r="1.35"/><circle cx="220.2" cy="399.4" r="1.35"/><circle cx="178.4" cy="386.7" r="1.35"/><circle cx="196.6" cy="393.5" r="1.35"/><circle cx="207.1" cy="404.0" r="1.35"/><circle cx="203.4" cy="382.4" r="1.35"/><circle cx="213.2" cy="376.2" r="1.35"/><circle cx="192.9" cy="409.1" r="1.35"/><circle cx="226.3" cy="405.2" r="1.35"/><circle cx="223.8" cy="400.3" r="1.35"/><circle cx="236.3" cy="434.1" r="1.35"/><circle cx="181.5" cy="404.9" r="1.35"/><circle cx="193.2" cy="393.4" r="1.35"/><circle cx="197.6" cy="417.1" r="1.35"/><circle cx="181.3" cy="415.6" r="1.35"/><circle cx="207.9" cy="427.8" r="1.35"/><circle cx="189.3" cy="397.3" r="1.35"/><circle cx="171.8" cy="379.6" r="1.35"/><circle cx="198.4" cy="424.9" r="1.35"/><circle cx="176.2" cy="386.6" r="1.35"/><circle cx="202.8" cy="429.6" r="1.35"/><circle cx="166.9" cy="400.2" r="1.35"/><circle cx="210.3" cy="394.1" r="1.35"/><circle cx="169.2" cy="383.9" r="1.35"/><circle cx="205.0" cy="411.1" r="1.35"/><circle cx="231.8" cy="392.8" r="1.35"/><circle cx="203.4" cy="401.6" r="1.35"/><circle cx="186.0" cy="391.8" r="1.35"/><circle cx="186.6" cy="410.6" r="1.35"/><circle cx="163.0" cy="381.3" r="1.35"/><circle cx="204.9" cy="394.6" r="1.35"/><circle cx="223.5" cy="392.2" r="1.35"/><circle cx="157.2" cy="403.3" r="1.35"/><circle cx="156.5" cy="412.6" r="1.35"/><circle cx="215.4" cy="440.8" r="1.35"/><circle cx="216.1" cy="398.3" r="1.35"/><circle cx="162.4" cy="393.1" r="1.35"/><circle cx="207.3" cy="401.8" r="1.35"/><circle cx="169.9" cy="386.4" r="1.35"/><circle cx="162.5" cy="368.3" r="1.35"/><circle cx="170.1" cy="407.0" r="1.35"/><circle cx="211.2" cy="409.7" r="1.35"/><circle cx="193.5" cy="414.3" r="1.35"/><circle cx="234.2" cy="395.4" r="1.35"/><circle cx="196.8" cy="406.2" r="1.35"/><circle cx="223.7" cy="415.4" r="1.35"/><circle cx="206.5" cy="412.2" r="1.35"/><circle cx="223.0" cy="398.8" r="1.35"/><circle cx="195.6" cy="392.3" r="1.35"/><circle cx="195.3" cy="374.2" r="1.35"/><circle cx="149.9" cy="394.6" r="1.35"/><circle cx="223.6" cy="403.3" r="1.35"/><circle cx="220.7" cy="420.9" r="1.35"/><circle cx="189.0" cy="418.3" r="1.35"/><circle cx="153.6" cy="383.8" r="1.35"/><circle cx="175.1" cy="390.8" r="1.35"/><circle cx="190.6" cy="396.3" r="1.35"/><circle cx="186.7" cy="414.0" r="1.35"/><circle cx="191.6" cy="399.4" r="1.35"/><circle cx="190.6" cy="392.8" r="1.35"/><circle cx="156.6" cy="375.8" r="1.35"/><circle cx="175.1" cy="372.3" r="1.35"/><circle cx="176.0" cy="369.3" r="1.35"/><circle cx="170.8" cy="381.6" r="1.35"/><circle cx="195.7" cy="406.1" r="1.35"/><circle cx="188.0" cy="384.7" r="1.35"/><circle cx="183.1" cy="395.5" r="1.35"/><circle cx="161.3" cy="370.5" r="1.35"/><circle cx="173.7" cy="386.8" r="1.35"/><circle cx="188.7" cy="400.1" r="1.35"/><circle cx="184.9" cy="402.9" r="1.35"/><circle cx="233.3" cy="403.5" r="1.35"/><circle cx="162.4" cy="386.3" r="1.35"/><circle cx="214.2" cy="408.6" r="1.35"/><circle cx="189.6" cy="395.1" r="1.35"/><circle cx="201.0" cy="396.2" r="1.35"/><circle cx="194.5" cy="401.2" r="1.35"/><circle cx="159.9" cy="396.5" r="1.35"/><circle cx="224.3" cy="393.2" r="1.35"/><circle cx="212.1" cy="427.4" r="1.35"/><circle cx="218.0" cy="411.5" r="1.35"/><circle cx="157.6" cy="372.3" r="1.35"/><circle cx="210.7" cy="414.2" r="1.35"/><circle cx="245.2" cy="424.7" r="1.35"/><circle cx="161.8" cy="389.7" r="1.35"/><circle cx="192.2" cy="425.4" r="1.35"/><circle cx="155.1" cy="401.2" r="1.35"/><circle cx="201.1" cy="408.8" r="1.35"/><circle cx="219.9" cy="431.9" r="1.35"/><circle cx="249.2" cy="433.0" r="1.35"/><circle cx="196.1" cy="401.7" r="1.35"/><circle cx="190.5" cy="393.2" r="1.35"/><circle cx="196.1" cy="406.6" r="1.35"/><circle cx="203.4" cy="371.7" r="1.35"/><circle cx="157.5" cy="415.8" r="1.35"/><circle cx="230.4" cy="411.8" r="1.35"/><circle cx="159.4" cy="409.2" r="1.35"/><circle cx="170.5" cy="390.9" r="1.35"/><circle cx="180.6" cy="430.9" r="1.35"/><circle cx="229.8" cy="421.8" r="1.35"/><circle cx="170.9" cy="416.5" r="1.35"/><circle cx="177.6" cy="383.6" r="1.35"/><circle cx="226.1" cy="434.4" r="1.35"/><circle cx="183.3" cy="383.9" r="1.35"/><circle cx="203.8" cy="396.2" r="1.35"/><circle cx="149.8" cy="395.1" r="1.35"/><circle cx="200.0" cy="413.8" r="1.35"/><circle cx="172.9" cy="413.6" r="1.35"/><circle cx="199.1" cy="411.1" r="1.35"/><circle cx="202.0" cy="399.5" r="1.35"/><circle cx="200.0" cy="406.3" r="1.35"/><circle cx="156.0" cy="387.7" r="1.35"/><circle cx="188.0" cy="427.1" r="1.35"/><circle cx="194.9" cy="410.2" r="1.35"/><circle cx="187.2" cy="409.7" r="1.35"/><circle cx="174.9" cy="414.1" r="1.35"/><circle cx="234.3" cy="430.2" r="1.35"/><circle cx="205.5" cy="403.2" r="1.35"/><circle cx="213.7" cy="399.4" r="1.35"/><circle cx="187.6" cy="403.0" r="1.35"/><circle cx="180.7" cy="419.6" r="1.35"/><circle cx="207.9" cy="402.5" r="1.35"/><circle cx="219.8" cy="431.7" r="1.35"/><circle cx="175.4" cy="400.3" r="1.35"/><circle cx="247.3" cy="409.6" r="1.35"/><circle cx="177.0" cy="416.1" r="1.35"/><circle cx="226.1" cy="401.4" r="1.35"/><circle cx="202.3" cy="372.3" r="1.35"/><circle cx="198.4" cy="391.2" r="1.35"/><circle cx="229.1" cy="398.6" r="1.35"/><circle cx="191.3" cy="422.3" r="1.35"/><circle cx="206.3" cy="392.1" r="1.35"/><circle cx="186.0" cy="396.0" r="1.35"/><circle cx="168.9" cy="394.4" r="1.35"/><circle cx="154.1" cy="391.3" r="1.35"/><circle cx="152.8" cy="412.6" r="1.35"/><circle cx="173.4" cy="375.1" r="1.35"/><circle cx="189.4" cy="408.0" r="1.35"/><circle cx="209.0" cy="386.2" r="1.35"/><circle cx="195.5" cy="401.6" r="1.35"/><circle cx="206.1" cy="381.2" r="1.35"/><circle cx="192.2" cy="434.9" r="1.35"/><circle cx="153.0" cy="386.8" r="1.35"/><circle cx="192.9" cy="415.5" r="1.35"/><circle cx="189.7" cy="404.6" r="1.35"/><circle cx="200.8" cy="408.1" r="1.35"/><circle cx="191.3" cy="400.1" r="1.35"/><circle cx="216.1" cy="385.7" r="1.35"/><circle cx="165.1" cy="363.7" r="1.35"/><circle cx="178.2" cy="418.4" r="1.35"/><circle cx="221.7" cy="416.5" r="1.35"/><circle cx="143.5" cy="380.6" r="1.35"/><circle cx="179.3" cy="369.7" r="1.35"/><circle cx="197.9" cy="401.6" r="1.35"/><circle cx="196.4" cy="392.1" r="1.35"/><circle cx="156.1" cy="388.5" r="1.35"/><circle cx="140.4" cy="381.2" r="1.35"/><circle cx="213.2" cy="404.9" r="1.35"/><circle cx="223.6" cy="415.8" r="1.35"/><circle cx="219.2" cy="402.0" r="1.35"/><circle cx="239.4" cy="414.1" r="1.35"/><circle cx="146.3" cy="395.8" r="1.35"/><circle cx="177.5" cy="397.5" r="1.35"/><circle cx="254.8" cy="420.5" r="1.35"/><circle cx="184.7" cy="384.7" r="1.35"/><circle cx="154.8" cy="377.9" r="1.35"/><circle cx="217.5" cy="380.6" r="1.35"/><circle cx="171.4" cy="403.5" r="1.35"/><circle cx="199.0" cy="397.0" r="1.35"/><circle cx="213.6" cy="434.9" r="1.35"/><circle cx="149.2" cy="395.3" r="1.35"/><circle cx="189.3" cy="392.7" r="1.35"/><circle cx="172.5" cy="406.9" r="1.35"/><circle cx="199.1" cy="392.8" r="1.35"/><circle cx="206.6" cy="389.3" r="1.35"/><circle cx="186.3" cy="386.7" r="1.35"/><circle cx="184.1" cy="374.4" r="1.35"/><circle cx="217.7" cy="422.3" r="1.35"/><circle cx="175.2" cy="384.9" r="1.35"/><circle cx="193.0" cy="434.5" r="1.35"/><circle cx="182.0" cy="384.7" r="1.35"/><circle cx="178.5" cy="384.6" r="1.35"/><circle cx="187.7" cy="364.3" r="1.35"/><circle cx="150.4" cy="391.6" r="1.35"/><circle cx="180.8" cy="399.9" r="1.35"/><circle cx="185.0" cy="376.5" r="1.35"/><circle cx="188.2" cy="374.4" r="1.35"/><circle cx="207.7" cy="424.4" r="1.35"/><circle cx="185.0" cy="401.2" r="1.35"/><circle cx="177.5" cy="386.3" r="1.35"/><circle cx="169.1" cy="380.5" r="1.35"/><circle cx="207.3" cy="383.6" r="1.35"/><circle cx="199.1" cy="414.6" r="1.35"/><circle cx="207.1" cy="415.4" r="1.35"/><circle cx="165.4" cy="363.1" r="1.35"/><circle cx="179.4" cy="409.6" r="1.35"/><circle cx="173.9" cy="379.4" r="1.35"/><circle cx="238.3" cy="429.3" r="1.35"/><circle cx="199.1" cy="429.6" r="1.35"/><circle cx="193.8" cy="397.0" r="1.35"/><circle cx="189.4" cy="380.9" r="1.35"/><circle cx="184.5" cy="423.9" r="1.35"/><circle cx="211.4" cy="401.9" r="1.35"/><circle cx="199.9" cy="388.5" r="1.35"/><circle cx="153.7" cy="387.5" r="1.35"/><circle cx="224.2" cy="406.9" r="1.35"/><circle cx="193.0" cy="397.4" r="1.35"/><circle cx="227.9" cy="433.8" r="1.35"/><circle cx="197.2" cy="432.9" r="1.35"/><circle cx="175.0" cy="378.6" r="1.35"/><circle cx="162.2" cy="380.2" r="1.35"/><circle cx="180.9" cy="410.0" r="1.35"/><circle cx="205.8" cy="418.3" r="1.35"/><circle cx="167.6" cy="390.8" r="1.35"/><circle cx="231.7" cy="408.7" r="1.35"/><circle cx="188.0" cy="382.7" r="1.35"/><circle cx="149.8" cy="401.7" r="1.35"/><circle cx="180.9" cy="412.2" r="1.35"/><circle cx="147.0" cy="392.9" r="1.35"/><circle cx="191.4" cy="425.5" r="1.35"/><circle cx="217.7" cy="437.5" r="1.35"/><circle cx="186.9" cy="421.2" r="1.35"/><circle cx="225.0" cy="410.2" r="1.35"/><circle cx="185.2" cy="421.9" r="1.35"/><circle cx="239.2" cy="424.8" r="1.35"/><circle cx="171.8" cy="392.1" r="1.35"/><circle cx="157.4" cy="389.4" r="1.35"/><circle cx="186.9" cy="371.6" r="1.35"/><circle cx="211.6" cy="391.6" r="1.35"/><circle cx="176.3" cy="424.7" r="1.35"/><circle cx="196.6" cy="415.9" r="1.35"/><circle cx="194.8" cy="400.8" r="1.35"/><circle cx="184.9" cy="393.2" r="1.35"/><circle cx="197.7" cy="403.7" r="1.35"/><circle cx="159.5" cy="388.1" r="1.35"/><circle cx="188.8" cy="385.2" r="1.35"/><circle cx="206.1" cy="413.6" r="1.35"/><circle cx="200.2" cy="373.3" r="1.35"/><circle cx="195.5" cy="417.6" r="1.35"/><circle cx="222.9" cy="421.9" r="1.35"/><circle cx="161.3" cy="376.6" r="1.35"/><circle cx="207.4" cy="405.1" r="1.35"/><circle cx="191.8" cy="395.1" r="1.35"/><circle cx="202.0" cy="375.6" r="1.35"/><circle cx="211.5" cy="402.0" r="1.35"/><circle cx="194.1" cy="427.4" r="1.35"/><circle cx="168.1" cy="391.7" r="1.35"/><circle cx="174.5" cy="377.8" r="1.35"/><circle cx="186.7" cy="431.1" r="1.35"/><circle cx="204.2" cy="399.9" r="1.35"/><circle cx="199.7" cy="421.0" r="1.35"/><circle cx="251.7" cy="407.2" r="1.35"/><circle cx="222.8" cy="383.7" r="1.35"/><circle cx="202.1" cy="397.3" r="1.35"/><circle cx="190.5" cy="402.1" r="1.35"/><circle cx="160.6" cy="388.9" r="1.35"/><circle cx="212.5" cy="415.3" r="1.35"/><circle cx="159.8" cy="384.0" r="1.35"/><circle cx="249.7" cy="425.4" r="1.35"/><circle cx="201.6" cy="408.5" r="1.35"/><circle cx="184.7" cy="413.7" r="1.35"/><circle cx="190.5" cy="403.3" r="1.35"/><circle cx="204.8" cy="394.7" r="1.35"/><circle cx="189.1" cy="404.7" r="1.35"/><circle cx="212.4" cy="396.1" r="1.35"/><circle cx="219.4" cy="405.3" r="1.35"/><circle cx="206.8" cy="418.2" r="1.35"/><circle cx="245.7" cy="409.1" r="1.35"/><circle cx="182.7" cy="394.3" r="1.35"/><circle cx="210.6" cy="401.9" r="1.35"/><circle cx="222.1" cy="380.2" r="1.35"/><circle cx="204.6" cy="415.1" r="1.35"/><circle cx="170.7" cy="366.4" r="1.35"/><circle cx="213.8" cy="379.4" r="1.35"/><circle cx="233.6" cy="417.0" r="1.35"/><circle cx="196.5" cy="417.9" r="1.35"/><circle cx="199.3" cy="404.5" r="1.35"/><circle cx="188.5" cy="417.2" r="1.35"/><circle cx="182.8" cy="382.0" r="1.35"/><circle cx="175.6" cy="402.6" r="1.35"/><circle cx="168.5" cy="381.1" r="1.35"/><circle cx="184.9" cy="394.6" r="1.35"/><circle cx="196.7" cy="419.1" r="1.35"/><circle cx="219.8" cy="422.2" r="1.35"/><circle cx="181.7" cy="373.6" r="1.35"/><circle cx="211.9" cy="400.5" r="1.35"/><circle cx="202.6" cy="409.6" r="1.35"/><circle cx="177.8" cy="391.8" r="1.35"/><circle cx="196.3" cy="402.7" r="1.35"/><circle cx="210.8" cy="426.8" r="1.35"/><circle cx="214.4" cy="410.1" r="1.35"/><circle cx="184.1" cy="387.7" r="1.35"/><circle cx="224.4" cy="424.2" r="1.35"/><circle cx="215.2" cy="397.4" r="1.35"/><circle cx="187.9" cy="405.9" r="1.35"/><circle cx="178.0" cy="387.1" r="1.35"/><circle cx="206.1" cy="409.2" r="1.35"/><circle cx="207.8" cy="423.1" r="1.35"/><circle cx="181.0" cy="403.4" r="1.35"/><circle cx="204.5" cy="420.0" r="1.35"/><circle cx="201.6" cy="412.8" r="1.35"/><circle cx="212.3" cy="425.4" r="1.35"/><circle cx="159.4" cy="412.4" r="1.35"/><circle cx="230.5" cy="398.3" r="1.35"/><circle cx="171.3" cy="389.6" r="1.35"/><circle cx="190.8" cy="395.5" r="1.35"/><circle cx="209.0" cy="403.0" r="1.35"/><circle cx="213.7" cy="390.0" r="1.35"/><circle cx="221.4" cy="429.1" r="1.35"/><circle cx="212.9" cy="439.6" r="1.35"/><circle cx="184.8" cy="401.8" r="1.35"/><circle cx="149.7" cy="408.6" r="1.35"/><circle cx="168.5" cy="379.1" r="1.35"/><circle cx="225.5" cy="415.3" r="1.35"/><circle cx="187.3" cy="379.3" r="1.35"/><circle cx="199.2" cy="390.3" r="1.35"/><circle cx="187.4" cy="412.2" r="1.35"/><circle cx="181.4" cy="383.9" r="1.35"/><circle cx="194.1" cy="414.5" r="1.35"/><circle cx="202.3" cy="410.9" r="1.35"/><circle cx="141.2" cy="391.0" r="1.35"/><circle cx="210.0" cy="406.4" r="1.35"/><circle cx="212.9" cy="429.8" r="1.35"/><circle cx="224.3" cy="411.6" r="1.35"/><circle cx="173.0" cy="378.8" r="1.35"/><circle cx="176.0" cy="412.6" r="1.35"/><circle cx="167.2" cy="417.1" r="1.35"/><circle cx="208.4" cy="385.1" r="1.35"/><circle cx="168.3" cy="420.5" r="1.35"/><circle cx="191.1" cy="394.6" r="1.35"/><circle cx="200.3" cy="379.8" r="1.35"/><circle cx="157.9" cy="386.6" r="1.35"/><circle cx="171.3" cy="373.2" r="1.35"/><circle cx="187.4" cy="422.2" r="1.35"/><circle cx="232.2" cy="413.9" r="1.35"/><circle cx="198.2" cy="404.1" r="1.35"/><circle cx="176.2" cy="385.4" r="1.35"/><circle cx="205.0" cy="419.0" r="1.35"/><circle cx="209.7" cy="427.4" r="1.35"/><circle cx="201.9" cy="373.2" r="1.35"/><circle cx="216.2" cy="402.9" r="1.35"/><circle cx="221.7" cy="390.7" r="1.35"/><circle cx="177.8" cy="399.0" r="1.35"/><circle cx="201.2" cy="384.2" r="1.35"/></g>
<path d="M224.0 441.1 L222.5 441.3 L221.0 441.4 L219.5 441.5 L218.0 441.5 L216.5 441.4 L215.0 441.3 L213.5 441.1 L212.3 441.0 L211.0 440.8 L209.5 440.6 L208.5 440.4 L207.0 440.1 L206.0 439.9 L204.5 439.5 L203.5 439.3 L202.4 439.0 L201.0 438.6 L200.0 438.4 L198.8 438.0 L197.5 437.6 L196.5 437.3 L195.5 437.0 L194.0 436.5 L193.0 436.2 L192.0 435.8 L191.0 435.4 L189.8 435.0 L188.5 434.5 L187.5 434.1 L186.5 433.7 L185.5 433.3 L184.5 432.9 L183.5 432.5 L182.4 432.0 L181.3 431.5 L180.2 431.0 L179.1 430.5 L178.0 430.0 L177.0 429.5 L176.0 429.0 L175.0 428.5 L174.0 428.0 L173.1 427.5 L172.2 427.0 L171.3 426.5 L170.4 426.0 L169.5 425.5 L168.5 424.9 L167.5 424.3 L166.5 423.7 L165.5 423.0 L164.7 422.5 L164.0 422.0 L163.0 421.3 L162.0 420.6 L161.2 420.0 L160.5 419.5 L159.5 418.7 L158.7 418.0 L158.0 417.4 L157.0 416.6 L156.3 416.0 L155.5 415.2 L154.7 414.5 L154.0 413.9 L153.0 413.0 L152.5 412.5 L151.5 411.6 L150.8 411.0 L150.0 410.3 L149.1 409.5 L148.5 409.0 L147.5 408.1 L146.8 407.5 L146.0 406.7 L145.2 406.0 L144.5 405.4 L143.6 404.5 L143.0 403.9 L142.1 403.0 L141.5 402.4 L140.6 401.5 L140.0 400.8 L139.3 400.0 L138.5 399.0 L138.0 398.4 L137.3 397.5 L136.6 396.5 L136.0 395.5 L135.4 394.5 L134.9 393.5 L134.5 392.5 L134.0 391.0 L133.7 390.0 L133.6 388.5 L133.6 387.0 L133.9 385.5 L134.2 384.5 L134.7 383.5 L135.4 382.5 L136.0 381.8 L136.7 381.0 L137.5 380.3 L138.5 379.5 L139.2 379.0 L140.0 378.4 L141.0 377.7 L142.0 377.0 L142.7 376.5 L143.5 375.9 L144.5 375.0 L145.0 374.5 L146.0 373.5 L146.5 373.0 L147.4 372.0 L148.0 371.3 L148.7 370.5 L149.5 369.7 L150.3 369.0 L151.0 368.4 L152.0 367.6 L152.9 367.0 L153.6 366.5 L154.5 366.0 L155.5 365.5 L156.5 365.0 L157.7 364.5 L159.0 364.0 L160.0 363.7 L161.0 363.4 L162.5 363.0 L163.5 362.8 L165.0 362.6 L166.0 362.4 L167.5 362.2 L169.0 362.1 L170.5 362.0 L171.5 362.0 L173.0 362.0 L174.3 362.0 L175.5 362.0 L177.0 362.1 L178.5 362.2 L180.0 362.4 L181.0 362.5 L182.5 362.7 L184.0 363.0 L185.0 363.2 L186.5 363.4 L187.5 363.7 L189.0 364.0 L190.0 364.2 L191.1 364.5 L192.5 364.9 L193.5 365.2 L194.6 365.5 L196.0 365.9 L197.0 366.3 L198.0 366.6 L199.1 367.0 L200.5 367.5 L201.5 367.9 L202.5 368.3 L203.5 368.7 L204.5 369.1 L205.5 369.5 L206.6 370.0 L207.7 370.5 L208.7 371.0 L209.8 371.5 L210.8 372.0 L211.8 372.5 L212.7 373.0 L213.7 373.5 L214.6 374.0 L215.5 374.5 L216.5 375.1 L217.5 375.7 L218.5 376.3 L219.5 376.9 L220.4 377.5 L221.2 378.0 L222.0 378.5 L223.0 379.2 L224.0 379.9 L224.9 380.5 L225.6 381.0 L226.5 381.7 L227.5 382.4 L228.3 383.0 L229.0 383.5 L230.0 384.3 L230.9 385.0 L231.6 385.5 L232.5 386.2 L233.5 387.0 L234.1 387.5 L235.0 388.2 L236.0 389.0 L236.6 389.5 L237.5 390.2 L238.5 391.0 L239.1 391.5 L240.0 392.2 L241.0 393.0 L241.6 393.5 L242.5 394.2 L243.5 395.0 L244.1 395.5 L245.0 396.3 L245.8 397.0 L246.5 397.6 L247.5 398.5 L248.0 399.0 L249.0 399.9 L249.6 400.5 L250.5 401.5 L251.0 402.0 L251.9 403.0 L252.5 403.7 L253.2 404.5 L254.0 405.5 L254.5 406.2 L255.1 407.0 L255.8 408.0 L256.4 409.0 L257.0 410.0 L257.5 411.0 L257.9 412.0 L258.4 413.0 L258.7 414.0 L259.0 415.0 L259.4 416.5 L259.6 417.5 L259.8 419.0 L259.8 420.5 L259.6 422.0 L259.5 423.0 L259.0 424.5 L258.7 425.5 L258.2 426.5 L257.6 427.5 L257.0 428.3 L256.4 429.0 L255.5 429.9 L254.9 430.5 L254.0 431.2 L253.0 431.9 L252.0 432.5 L251.1 433.0 L250.0 433.5 L249.0 433.9 L248.0 434.3 L247.0 434.7 L245.9 435.0 L244.5 435.4 L243.5 435.7 L242.0 436.0 L241.0 436.2 L239.7 436.5 L238.5 436.8 L237.5 437.0 L236.0 437.4 L235.0 437.6 L233.7 438.0 L232.5 438.4 L231.5 438.7 L230.5 439.1 L229.4 439.5 L228.0 440.0 L227.0 440.3 L226.0 440.6 L224.5 441.0ZM235.5 430.0 L234.0 430.0 L232.5 430.0 L231.5 430.0 L230.0 429.9 L228.5 429.9 L227.0 429.8 L225.5 429.7 L224.0 429.7 L222.5 429.6 L221.0 429.6 L219.5 429.6 L218.0 429.7 L216.5 429.7 L215.0 429.8 L213.5 429.8 L212.0 429.9 L210.5 429.9 L209.0 430.0 L207.5 430.0 L206.0 429.9 L204.5 429.9 L203.0 429.7 L201.5 429.5 L200.5 429.4 L199.0 429.1 L198.0 428.9 L196.5 428.5 L195.5 428.2 L194.5 427.9 L193.2 427.5 L192.0 427.1 L191.0 426.7 L190.0 426.3 L189.0 425.8 L188.0 425.4 L187.0 424.9 L186.0 424.4 L185.0 423.9 L184.0 423.3 L183.0 422.7 L182.0 422.1 L181.1 421.5 L180.3 421.0 L179.5 420.4 L178.5 419.7 L177.5 419.1 L176.7 418.5 L175.9 418.0 L175.0 417.4 L174.0 416.7 L173.0 416.1 L172.0 415.5 L171.0 415.0 L170.1 414.5 L169.2 414.0 L168.2 413.5 L167.2 413.0 L166.2 412.5 L165.1 412.0 L164.1 411.5 L163.0 411.0 L162.0 410.5 L161.0 410.0 L160.0 409.5 L159.0 409.0 L158.1 408.5 L157.1 408.0 L156.2 407.5 L155.4 407.0 L154.5 406.5 L153.5 405.9 L152.5 405.2 L151.5 404.5 L150.7 404.0 L150.0 403.5 L149.0 402.7 L148.1 402.0 L147.5 401.4 L146.5 400.5 L145.9 400.0 L145.0 399.0 L144.5 398.5 L143.7 397.5 L143.0 396.5 L142.5 395.7 L142.0 394.9 L141.5 393.8 L141.1 392.5 L140.9 391.5 L140.8 390.0 L141.0 388.8 L141.5 387.6 L142.0 386.8 L142.7 386.0 L143.5 385.3 L144.5 384.6 L145.5 384.1 L146.5 383.6 L147.5 383.2 L148.5 382.8 L149.5 382.5 L150.9 382.0 L152.0 381.6 L153.0 381.2 L154.0 380.8 L155.0 380.3 L156.0 379.7 L157.0 379.0 L157.7 378.5 L158.5 377.8 L159.4 377.0 L160.0 376.5 L161.0 375.7 L161.9 375.0 L162.6 374.5 L163.5 373.9 L164.5 373.4 L165.5 372.9 L166.5 372.5 L167.8 372.0 L169.0 371.6 L170.0 371.4 L171.5 371.0 L172.5 370.9 L174.0 370.7 L175.5 370.5 L176.5 370.5 L178.0 370.5 L179.5 370.5 L180.5 370.5 L182.0 370.6 L183.5 370.7 L185.0 370.9 L186.0 371.1 L187.5 371.3 L189.0 371.6 L190.5 371.9 L191.5 372.2 L192.8 372.5 L194.0 372.8 L195.0 373.1 L196.2 373.5 L197.5 373.9 L198.5 374.3 L199.5 374.6 L200.5 375.0 L201.8 375.5 L203.0 376.0 L204.0 376.4 L205.0 376.9 L206.0 377.4 L207.0 377.8 L208.0 378.3 L209.0 378.9 L210.0 379.4 L211.0 379.9 L212.0 380.5 L212.9 381.0 L213.7 381.5 L214.5 382.0 L215.5 382.6 L216.5 383.2 L217.5 383.9 L218.4 384.5 L219.1 385.0 L220.0 385.6 L221.0 386.3 L222.0 387.0 L222.7 387.5 L223.5 388.0 L224.5 388.7 L225.5 389.4 L226.3 390.0 L227.0 390.5 L228.0 391.2 L229.0 391.8 L230.0 392.5 L230.8 393.0 L231.5 393.5 L232.5 394.1 L233.5 394.8 L234.5 395.4 L235.4 396.0 L236.1 396.5 L237.0 397.1 L238.0 397.8 L239.0 398.5 L239.7 399.0 L240.5 399.6 L241.5 400.3 L242.3 401.0 L243.0 401.5 L244.0 402.4 L244.7 403.0 L245.5 403.8 L246.2 404.5 L247.0 405.3 L247.6 406.0 L248.4 407.0 L249.0 407.7 L249.6 408.5 L250.2 409.5 L250.8 410.5 L251.4 411.5 L251.8 412.5 L252.2 413.5 L252.5 414.5 L252.9 416.0 L253.0 417.1 L253.0 418.5 L253.0 419.5 L252.7 421.0 L252.3 422.0 L251.8 423.0 L251.2 424.0 L250.5 424.9 L249.9 425.5 L249.0 426.3 L248.0 427.0 L247.1 427.5 L246.1 428.0 L245.0 428.4 L244.0 428.8 L243.0 429.1 L241.5 429.4 L240.5 429.6 L239.0 429.8 L237.5 429.9 L236.0 430.0ZM238.0 426.5 L236.5 426.7 L235.0 426.7 L233.5 426.7 L232.0 426.6 L231.0 426.5 L229.5 426.4 L228.0 426.2 L226.8 426.0 L225.5 425.8 L224.0 425.6 L223.0 425.4 L221.5 425.2 L220.0 425.0 L219.0 424.9 L217.5 424.7 L216.0 424.5 L215.0 424.4 L213.5 424.3 L212.0 424.1 L210.7 424.0 L209.5 423.9 L208.0 423.7 L206.5 423.5 L205.5 423.4 L204.0 423.1 L203.0 422.9 L201.5 422.6 L200.5 422.4 L199.0 422.0 L198.0 421.8 L197.0 421.5 L195.6 421.0 L194.5 420.6 L193.5 420.2 L192.5 419.8 L191.5 419.4 L190.5 419.0 L189.4 418.5 L188.4 418.0 L187.3 417.5 L186.3 417.0 L185.3 416.5 L184.4 416.0 L183.4 415.5 L182.4 415.0 L181.4 414.5 L180.3 414.0 L179.2 413.5 L178.1 413.0 L177.0 412.5 L176.0 412.1 L175.0 411.7 L174.0 411.4 L172.9 411.0 L171.5 410.5 L170.5 410.2 L169.5 409.9 L168.4 409.5 L167.0 409.0 L166.0 408.7 L165.0 408.3 L164.0 408.0 L162.8 407.5 L161.6 407.0 L160.5 406.6 L159.5 406.1 L158.5 405.6 L157.5 405.1 L156.5 404.6 L155.5 404.0 L154.6 403.5 L153.8 403.0 L153.0 402.4 L152.0 401.7 L151.1 401.0 L150.5 400.5 L149.5 399.6 L148.8 399.0 L148.0 398.1 L147.5 397.5 L146.8 396.5 L146.2 395.5 L145.7 394.5 L145.2 393.0 L145.2 391.5 L145.5 390.1 L146.0 389.2 L146.6 388.5 L147.5 387.8 L148.5 387.2 L149.5 386.7 L150.5 386.4 L151.7 386.0 L153.0 385.7 L154.0 385.5 L155.5 385.2 L156.5 385.0 L158.0 384.7 L159.0 384.4 L160.3 384.0 L161.5 383.5 L162.4 383.0 L163.2 382.5 L164.0 381.9 L165.0 381.2 L165.8 380.5 L166.5 380.0 L167.5 379.2 L168.5 378.5 L169.4 378.0 L170.4 377.5 L171.5 377.0 L172.5 376.6 L173.5 376.3 L174.7 376.0 L176.0 375.7 L177.5 375.5 L178.5 375.4 L180.0 375.3 L181.5 375.3 L183.0 375.3 L184.5 375.4 L185.5 375.5 L187.0 375.7 L188.5 375.9 L189.5 376.1 L191.0 376.4 L192.0 376.6 L193.5 377.0 L194.5 377.2 L195.5 377.5 L197.0 378.0 L198.0 378.4 L199.0 378.7 L200.0 379.1 L201.0 379.5 L202.2 380.0 L203.4 380.5 L204.5 381.0 L205.5 381.5 L206.5 382.0 L207.5 382.5 L208.4 383.0 L209.3 383.5 L210.2 384.0 L211.0 384.5 L212.0 385.1 L213.0 385.7 L214.0 386.3 L215.0 387.0 L215.8 387.5 L216.5 388.0 L217.5 388.6 L218.5 389.3 L219.5 390.0 L220.3 390.5 L221.0 391.0 L222.0 391.6 L223.0 392.3 L224.0 392.9 L225.0 393.5 L225.8 394.0 L226.7 394.5 L227.5 395.0 L228.5 395.6 L229.5 396.1 L230.5 396.7 L231.5 397.3 L232.5 397.8 L233.5 398.4 L234.5 399.0 L235.3 399.5 L236.1 400.0 L237.0 400.6 L238.0 401.3 L239.0 402.0 L239.7 402.5 L240.5 403.1 L241.5 403.9 L242.1 404.5 L243.0 405.3 L243.7 406.0 L244.5 406.8 L245.1 407.5 L245.9 408.5 L246.5 409.4 L247.0 410.1 L247.5 411.0 L248.0 412.0 L248.5 413.2 L248.9 414.5 L249.1 415.5 L249.3 417.0 L249.1 418.5 L248.9 419.5 L248.5 420.6 L248.0 421.5 L247.3 422.5 L246.5 423.3 L245.6 424.0 L244.8 424.5 L243.9 425.0 L242.7 425.5 L241.5 425.9 L240.5 426.2 L239.0 426.4 L238.0 426.5ZM237.5 424.0 L236.0 424.2 L234.5 424.2 L233.0 424.2 L231.5 424.1 L230.5 423.9 L229.0 423.7 L227.7 423.5 L226.5 423.3 L225.1 423.0 L224.0 422.8 L222.8 422.5 L221.5 422.2 L220.0 421.9 L218.5 421.6 L217.5 421.4 L216.0 421.1 L215.0 420.9 L213.5 420.7 L212.2 420.5 L211.0 420.3 L209.5 420.1 L208.5 420.0 L207.0 419.7 L205.7 419.5 L204.5 419.3 L203.1 419.0 L202.0 418.7 L201.0 418.5 L199.5 418.1 L198.5 417.8 L197.5 417.5 L196.0 417.0 L195.0 416.6 L194.0 416.3 L193.0 415.9 L192.0 415.5 L190.9 415.0 L189.8 414.5 L188.7 414.0 L187.6 413.5 L186.6 413.0 L185.5 412.5 L184.5 412.0 L183.5 411.6 L182.5 411.1 L181.5 410.7 L180.5 410.3 L179.5 409.9 L178.5 409.5 L177.0 409.0 L176.0 408.7 L175.0 408.4 L173.5 408.0 L172.5 407.8 L171.4 407.5 L170.0 407.2 L169.0 406.9 L167.5 406.5 L166.5 406.3 L165.5 406.0 L164.0 405.5 L163.0 405.2 L162.0 404.8 L161.0 404.4 L160.0 404.0 L159.0 403.5 L158.0 403.0 L157.0 402.5 L156.0 401.9 L155.0 401.2 L154.0 400.5 L153.3 400.0 L152.5 399.3 L151.7 398.5 L151.0 397.8 L150.4 397.0 L149.7 396.0 L149.2 395.0 L148.9 394.0 L148.9 392.5 L149.2 391.5 L150.0 390.5 L150.6 390.0 L151.5 389.5 L152.6 389.0 L154.0 388.6 L155.0 388.4 L156.5 388.2 L158.0 388.1 L159.0 388.0 L160.5 387.9 L162.0 387.7 L163.3 387.5 L164.5 387.2 L165.5 386.9 L166.5 386.5 L167.5 385.9 L168.5 385.2 L169.4 384.5 L170.1 384.0 L171.0 383.2 L172.0 382.5 L172.7 382.0 L173.6 381.5 L174.5 381.0 L175.7 380.5 L177.0 380.1 L178.0 379.8 L179.3 379.5 L180.5 379.3 L182.0 379.2 L183.5 379.1 L185.0 379.1 L186.5 379.2 L188.0 379.4 L189.1 379.5 L190.5 379.7 L191.9 380.0 L193.0 380.2 L194.0 380.5 L195.5 380.9 L196.5 381.2 L197.5 381.6 L198.8 382.0 L200.0 382.5 L201.0 382.9 L202.0 383.3 L203.0 383.8 L204.0 384.2 L205.0 384.7 L206.0 385.2 L207.0 385.8 L208.0 386.3 L209.0 386.9 L210.0 387.5 L210.8 388.0 L211.6 388.5 L212.5 389.1 L213.5 389.7 L214.5 390.4 L215.5 391.0 L216.2 391.5 L217.0 392.0 L218.0 392.6 L219.0 393.3 L220.0 393.9 L221.0 394.5 L221.9 395.0 L222.8 395.5 L223.7 396.0 L224.7 396.5 L225.7 397.0 L226.6 397.5 L227.6 398.0 L228.6 398.5 L229.6 399.0 L230.6 399.5 L231.6 400.0 L232.5 400.5 L233.5 401.1 L234.5 401.6 L235.5 402.2 L236.5 402.9 L237.4 403.5 L238.1 404.0 L239.0 404.7 L240.0 405.5 L240.5 406.0 L241.5 406.9 L242.1 407.5 L242.9 408.5 L243.5 409.2 L244.1 410.0 L244.7 411.0 L245.2 412.0 L245.6 413.0 L246.0 414.3 L246.2 415.5 L246.2 417.0 L246.0 418.1 L245.5 419.4 L245.0 420.2 L244.4 421.0 L243.5 421.8 L242.5 422.5 L241.5 423.0 L240.5 423.4 L239.5 423.7 L238.0 424.0ZM236.5 422.1 L235.0 422.2 L233.5 422.2 L232.0 422.1 L230.9 422.0 L229.5 421.8 L228.0 421.5 L227.0 421.3 L225.8 421.0 L224.5 420.7 L223.5 420.4 L222.0 420.0 L221.0 419.7 L220.0 419.4 L218.5 419.0 L217.5 418.8 L216.4 418.5 L215.0 418.2 L214.0 418.0 L212.5 417.7 L211.4 417.5 L210.0 417.3 L208.5 417.0 L207.5 416.9 L206.0 416.6 L205.0 416.4 L203.5 416.1 L202.5 415.9 L201.0 415.5 L200.0 415.3 L199.0 415.0 L197.5 414.5 L196.5 414.2 L195.5 413.8 L194.5 413.5 L193.3 413.0 L192.1 412.5 L191.0 412.0 L190.0 411.5 L189.0 411.1 L188.0 410.6 L187.0 410.1 L186.0 409.7 L185.0 409.2 L184.0 408.7 L183.0 408.3 L182.0 407.8 L181.0 407.4 L180.0 407.0 L178.6 406.5 L177.5 406.2 L176.5 405.9 L175.0 405.5 L174.0 405.3 L172.5 405.1 L171.0 404.8 L169.5 404.6 L168.5 404.4 L167.0 404.1 L166.0 403.9 L164.5 403.5 L163.5 403.2 L162.5 402.9 L161.4 402.5 L160.3 402.0 L159.2 401.5 L158.3 401.0 L157.4 400.5 L156.5 399.9 L155.5 399.1 L154.8 398.5 L154.0 397.7 L153.4 397.0 L152.8 396.0 L152.5 395.0 L152.5 393.5 L153.0 392.5 L153.6 392.0 L154.5 391.5 L155.9 391.0 L157.0 390.8 L158.5 390.7 L160.0 390.6 L161.5 390.6 L163.0 390.6 L164.5 390.6 L166.0 390.6 L167.0 390.5 L168.5 390.2 L169.5 389.9 L170.5 389.4 L171.5 388.8 L172.5 388.0 L173.1 387.5 L174.0 386.7 L174.8 386.0 L175.5 385.4 L176.5 384.7 L177.5 384.2 L178.5 383.7 L179.5 383.3 L180.5 383.0 L182.0 382.6 L183.0 382.5 L184.5 382.3 L186.0 382.3 L187.5 382.3 L189.0 382.4 L190.0 382.6 L191.5 382.8 L192.6 383.0 L194.0 383.3 L195.0 383.6 L196.4 384.0 L197.5 384.4 L198.5 384.7 L199.5 385.1 L200.5 385.5 L201.7 386.0 L202.8 386.5 L203.8 387.0 L204.8 387.5 L205.7 388.0 L206.6 388.5 L207.5 389.0 L208.5 389.6 L209.5 390.2 L210.5 390.8 L211.5 391.5 L212.3 392.0 L213.1 392.5 L214.0 393.1 L215.0 393.8 L216.0 394.4 L217.0 395.0 L217.8 395.5 L218.7 396.0 L219.6 396.5 L220.6 397.0 L221.6 397.5 L222.6 398.0 L223.7 398.5 L224.8 399.0 L225.9 399.5 L227.0 400.0 L228.0 400.4 L229.0 400.9 L230.0 401.3 L231.0 401.8 L232.0 402.3 L233.0 402.9 L234.0 403.4 L234.9 404.0 L235.7 404.5 L236.5 405.1 L237.5 405.8 L238.4 406.5 L239.0 407.1 L240.0 408.0 L240.5 408.6 L241.3 409.5 L242.0 410.5 L242.5 411.4 L243.0 412.4 L243.4 413.5 L243.6 414.5 L243.7 416.0 L243.5 417.1 L243.0 418.4 L242.5 419.1 L241.7 420.0 L241.0 420.5 L240.0 421.1 L238.9 421.5 L237.5 421.9 L236.5 422.1ZM234.5 420.5 L233.0 420.5 L232.0 420.5 L230.5 420.3 L229.0 420.1 L228.0 419.8 L226.6 419.5 L225.5 419.2 L224.5 418.9 L223.3 418.5 L222.0 418.1 L221.0 417.7 L220.0 417.4 L218.7 417.0 L217.5 416.6 L216.5 416.3 L215.3 416.0 L214.0 415.7 L213.0 415.4 L211.5 415.1 L210.5 414.9 L209.0 414.7 L207.8 414.5 L206.5 414.3 L205.0 414.0 L204.0 413.8 L202.5 413.5 L201.5 413.3 L200.4 413.0 L199.0 412.6 L198.0 412.3 L197.0 412.0 L195.7 411.5 L194.5 411.1 L193.5 410.6 L192.5 410.2 L191.5 409.8 L190.5 409.3 L189.5 408.8 L188.5 408.3 L187.5 407.8 L186.5 407.3 L185.5 406.8 L184.5 406.3 L183.5 405.7 L182.5 405.2 L181.5 404.7 L180.5 404.3 L179.5 403.8 L178.5 403.4 L177.2 403.0 L176.0 402.7 L175.0 402.5 L173.5 402.3 L172.0 402.2 L170.5 402.1 L169.0 402.0 L168.0 402.0 L166.5 401.8 L165.0 401.5 L164.0 401.3 L163.0 401.0 L161.6 400.5 L160.5 400.0 L159.6 399.5 L158.8 399.0 L158.0 398.4 L157.1 397.5 L156.5 396.7 L156.1 395.5 L156.5 394.3 L157.5 393.6 L158.5 393.3 L160.0 393.1 L161.5 393.1 L163.0 393.2 L164.5 393.4 L165.5 393.5 L167.0 393.7 L168.5 393.9 L170.0 393.9 L171.5 393.7 L172.5 393.4 L173.5 392.8 L174.5 392.0 L175.0 391.5 L175.9 390.5 L176.5 389.9 L177.3 389.0 L178.0 388.3 L179.0 387.5 L179.7 387.0 L180.6 386.5 L181.7 386.0 L183.0 385.5 L184.0 385.3 L185.5 385.1 L186.5 385.0 L188.0 384.9 L189.5 385.0 L190.5 385.1 L192.0 385.3 L193.1 385.5 L194.5 385.8 L195.5 386.1 L196.9 386.5 L198.0 386.9 L199.0 387.2 L200.0 387.6 L201.0 388.1 L202.0 388.5 L203.0 389.0 L204.0 389.5 L205.0 390.1 L206.0 390.6 L207.0 391.2 L208.0 391.8 L209.0 392.5 L209.8 393.0 L210.6 393.5 L211.5 394.1 L212.5 394.7 L213.5 395.4 L214.5 396.0 L215.3 396.5 L216.2 397.0 L217.1 397.5 L218.5 398.3 L219.5 398.7 L220.5 399.2 L221.5 399.6 L222.5 400.0 L223.7 400.5 L225.0 401.0 L226.0 401.4 L227.0 401.8 L228.0 402.2 L229.0 402.6 L230.0 403.1 L231.0 403.5 L232.0 404.0 L233.0 404.6 L234.0 405.2 L235.0 405.8 L236.0 406.5 L236.6 407.0 L237.5 407.7 L238.3 408.5 L239.0 409.3 L239.6 410.0 L240.3 411.0 L240.8 412.0 L241.2 413.0 L241.5 414.2 L241.5 415.5 L241.3 416.5 L240.9 417.5 L240.1 418.5 L239.5 419.0 L238.5 419.6 L237.4 420.0 L236.0 420.3 L234.7 420.5ZM235.5 419.0 L234.0 419.2 L232.5 419.3 L231.0 419.1 L230.0 419.0 L228.5 418.7 L227.5 418.5 L226.0 418.0 L225.0 417.7 L224.0 417.4 L223.0 417.0 L221.7 416.5 L220.5 416.0 L219.5 415.6 L218.5 415.3 L217.5 414.9 L216.3 414.5 L215.0 414.1 L214.0 413.8 L212.7 413.5 L211.5 413.2 L210.2 413.0 L209.0 412.8 L207.5 412.6 L206.5 412.4 L205.0 412.2 L204.0 412.0 L202.5 411.7 L201.5 411.5 L200.0 411.1 L199.0 410.8 L198.0 410.5 L196.5 410.0 L195.5 409.6 L194.5 409.2 L193.5 408.8 L192.5 408.3 L191.5 407.9 L190.5 407.4 L189.5 406.9 L188.5 406.3 L187.5 405.7 L186.5 405.2 L185.5 404.6 L184.6 404.0 L183.8 403.5 L183.0 403.0 L182.0 402.3 L181.0 401.6 L180.1 401.0 L179.5 400.5 L178.5 399.6 L177.9 399.0 L177.4 398.0 L177.2 396.5 L177.5 395.4 L178.0 394.0 L178.5 393.0 L179.0 392.1 L179.5 391.4 L180.2 390.5 L181.0 389.7 L181.8 389.0 L182.6 388.5 L183.6 388.0 L185.0 387.5 L186.0 387.3 L187.5 387.1 L188.7 387.0 L189.6 387.0 L191.0 387.1 L192.5 387.3 L193.8 387.5 L195.0 387.8 L196.0 388.0 L197.5 388.5 L198.5 388.9 L199.5 389.2 L200.5 389.7 L201.5 390.1 L202.5 390.6 L203.5 391.1 L204.5 391.7 L205.5 392.3 L206.5 392.9 L207.5 393.5 L208.5 394.2 L209.5 394.8 L210.5 395.5 L211.3 396.0 L212.0 396.5 L213.0 397.1 L214.0 397.7 L215.0 398.3 L216.0 398.9 L217.0 399.4 L218.0 399.9 L219.0 400.3 L220.0 400.7 L221.0 401.1 L222.2 401.5 L223.5 401.9 L224.5 402.3 L225.5 402.6 L226.6 403.0 L227.9 403.5 L229.0 403.9 L230.0 404.4 L231.0 404.8 L232.0 405.3 L233.0 405.9 L234.0 406.5 L234.7 407.0 L235.5 407.6 L236.5 408.4 L237.1 409.0 L238.0 410.0 L238.5 410.7 L239.0 411.5 L239.5 412.6 L239.8 414.0 L239.8 415.5 L239.4 416.5 L238.6 417.5 L238.0 418.0 L237.0 418.6 L235.6 419.0ZM165.5 398.5 L164.2 398.5 L163.0 398.2 L162.0 397.6 L161.8 396.5 L163.0 396.3 L164.3 396.5 L165.5 397.0 L166.2 397.5 L165.6 398.5ZM234.5 417.1 L233.0 417.4 L231.5 417.4 L230.0 417.2 L228.8 417.0 L227.5 416.7 L226.0 416.2 L225.0 415.8 L224.0 415.4 L223.0 414.9 L222.0 414.4 L221.0 414.0 L220.0 413.5 L219.0 413.0 L218.0 412.5 L216.9 412.0 L215.7 411.5 L214.5 411.1 L213.5 410.7 L212.5 410.5 L211.0 410.2 L209.7 410.0 L208.5 409.8 L207.0 409.7 L205.5 409.5 L204.5 409.4 L203.0 409.1 L202.0 408.9 L200.5 408.6 L199.5 408.4 L198.3 408.0 L197.0 407.6 L196.0 407.2 L195.0 406.8 L194.0 406.4 L193.0 405.9 L192.0 405.4 L191.0 404.8 L190.0 404.2 L189.0 403.5 L188.3 403.0 L187.5 402.4 L186.5 401.6 L185.9 401.0 L185.0 400.0 L184.5 399.4 L183.9 398.5 L183.5 397.5 L183.2 396.0 L183.4 394.5 L183.8 393.5 L184.4 392.5 L185.0 391.9 L186.0 391.1 L187.0 390.6 L188.0 390.3 L189.5 390.0 L190.5 389.9 L192.0 390.0 L193.0 390.1 L194.5 390.3 L195.5 390.5 L197.0 390.9 L198.0 391.3 L199.0 391.6 L200.0 392.1 L201.0 392.5 L202.0 393.0 L203.0 393.6 L204.0 394.2 L205.0 394.8 L206.0 395.4 L206.8 396.0 L207.6 396.5 L208.5 397.2 L209.5 397.9 L210.3 398.5 L211.0 399.0 L212.0 399.7 L213.0 400.3 L214.0 400.9 L215.0 401.4 L216.0 401.9 L217.0 402.3 L218.0 402.7 L219.1 403.0 L220.5 403.4 L221.5 403.6 L223.0 404.0 L224.0 404.2 L225.1 404.5 L226.5 404.9 L227.5 405.2 L228.5 405.6 L229.6 406.0 L230.7 406.5 L231.7 407.0 L232.5 407.5 L233.5 408.1 L234.5 408.9 L235.1 409.5 L236.0 410.5 L236.5 411.1 L237.0 412.1 L237.4 413.5 L237.2 415.0 L236.6 416.0 L235.9 416.5 L234.9 417.0ZM206.5 406.5 L205.0 406.6 L203.6 406.5 L202.5 406.4 L201.0 406.2 L200.0 406.0 L198.5 405.6 L197.5 405.3 L196.5 404.9 L195.5 404.5 L194.5 404.0 L193.5 403.4 L192.5 402.8 L191.5 402.1 L190.7 401.5 L190.0 400.8 L189.2 400.0 L188.5 399.0 L188.0 398.0 L187.8 397.0 L187.9 395.5 L188.4 394.5 L189.0 393.9 L190.0 393.4 L191.1 393.0 L192.5 392.8 L194.0 392.9 L195.1 393.0 L196.5 393.3 L197.5 393.6 L198.6 394.0 L199.8 394.5 L200.8 395.0 L201.7 395.5 L202.5 396.0 L203.5 396.6 L204.5 397.3 L205.4 398.0 L206.0 398.5 L207.0 399.4 L207.7 400.0 L208.5 400.8 L209.2 401.5 L210.0 402.4 L210.5 403.0 L211.2 404.0 L211.5 405.0 L211.0 405.7 L210.0 406.0 L208.5 406.3 L207.0 406.5ZM232.5 415.5 L231.0 415.6 L229.8 415.5 L228.5 415.2 L227.5 414.9 L226.4 414.5 L225.3 414.0 L224.3 413.5 L223.4 413.0 L222.5 412.4 L221.5 411.7 L220.5 411.0 L219.9 410.5 L219.0 409.6 L218.4 409.0 L217.7 408.0 L218.0 406.8 L219.0 406.4 L220.5 406.3 L222.0 406.2 L223.5 406.3 L225.0 406.5 L226.0 406.6 L227.5 407.0 L228.5 407.3 L229.5 407.7 L230.5 408.2 L231.5 408.7 L232.5 409.4 L233.2 410.0 L234.0 410.9 L234.5 411.6 L234.9 413.0 L234.5 414.4 L233.9 415.0 L232.6 415.5Z" fill="none" stroke="#1f77b4" stroke-width="1.15"/>
<path d="M54.5 402.1H345.5M196 283.6V521.0" stroke="#999" stroke-width="1.1" fill="none" opacity="0.9"/>
<path d="M152.7 328.4L157.9 333.6M157.9 328.4L152.7 333.6M64.9 379.8L70.1 385.0M70.1 379.8L64.9 385.0M82.3 366.0L87.5 371.2M87.5 366.0L82.3 371.2M98.8 368.7L104.0 373.9M104.0 368.7L98.8 373.9M99.2 380.8L104.4 386.0M104.4 380.8L99.2 386.0M99.6 385.0L104.8 390.2M104.8 385.0L99.6 390.2M118.1 398.9L123.3 404.1M123.3 398.9L118.1 404.1M120.6 406.0L125.8 411.2M125.8 406.0L120.6 411.2M109.5 412.0L114.7 417.2M114.7 412.0L109.5 417.2M130.0 368.5L135.2 373.7M135.2 368.5L130.0 373.7M145.8 374.0L151.0 379.2M151.0 374.0L145.8 379.2M149.6 373.4L154.8 378.6M154.8 373.4L149.6 378.6M124.8 381.0L130.0 386.2M130.0 381.0L124.8 386.2M122.2 386.0L127.4 391.2M127.4 386.0L122.2 391.2M133.7 380.7L138.9 385.9M138.9 380.7L133.7 385.9M134.0 388.4L139.2 393.6M139.2 388.4L134.0 393.6M126.7 392.7L131.9 397.9M131.9 392.7L126.7 397.9M145.4 382.9L150.6 388.1M150.6 382.9L145.4 388.1M150.4 380.2L155.6 385.4M155.6 380.2L150.4 385.4M141.3 394.8L146.5 400.0M146.5 394.8L141.3 400.0M139.4 401.2L144.6 406.4M144.6 401.2L139.4 406.4M133.4 406.4L138.6 411.6M138.6 406.4L133.4 411.6M134.7 410.4L139.9 415.6M139.9 410.4L134.7 415.6M151.4 399.4L156.6 404.6M156.6 399.4L151.4 404.6M150.1 406.6L155.3 411.8M155.3 406.6L150.1 411.8M164.5 384.7L169.7 389.9M169.7 384.7L164.5 389.9M174.5 389.4L179.7 394.6M179.7 389.4L174.5 394.6M189.1 388.3L194.3 393.5M194.3 388.3L189.1 393.5M158.7 395.0L163.9 400.2M163.9 395.0L158.7 400.2M167.8 398.9L173.0 404.1M173.0 398.9L167.8 404.1M157.7 404.5L162.9 409.7M162.9 404.5L157.7 409.7M175.7 409.6L180.9 414.8M180.9 409.6L175.7 414.8M186.7 409.4L191.9 414.6M191.9 409.4L186.7 414.6M150.7 415.9L155.9 421.1M155.9 415.9L150.7 421.1M154.4 413.4L159.6 418.6M159.6 413.4L154.4 418.6M166.7 416.7L171.9 421.9M171.9 416.7L166.7 421.9M153.9 420.2L159.1 425.4M159.1 420.2L153.9 425.4M158.3 419.6L163.5 424.8M163.5 419.6L158.3 424.8M158.1 424.6L163.3 429.8M163.3 424.6L158.1 429.8M129.2 432.6L134.4 437.8M134.4 432.6L129.2 437.8M138.4 442.4L143.6 447.6M143.6 442.4L138.4 447.6M155.6 434.8L160.8 440.0M160.8 434.8L155.6 440.0M163.5 440.4L168.7 445.6M168.7 440.4L163.5 445.6M183.2 423.4L188.4 428.6M188.4 423.4L183.2 428.6M187.5 423.9L192.7 429.1M192.7 423.9L187.5 429.1M190.4 428.4L195.6 433.6M195.6 428.4L190.4 433.6M230.8 363.7L236.0 368.9M236.0 363.7L230.8 368.9M228.2 369.4L233.4 374.6M233.4 369.4L228.2 374.6M227.9 374.0L233.1 379.2M233.1 374.0L227.9 379.2M256.2 363.5L261.4 368.7M261.4 363.5L256.2 368.7M271.0 344.8L276.2 350.0M276.2 344.8L271.0 350.0M268.8 366.8L274.0 372.0M274.0 366.8L268.8 372.0M205.8 373.9L211.0 379.1M211.0 373.9L205.8 379.1M208.9 375.1L214.1 380.3M214.1 375.1L208.9 380.3M215.0 375.2L220.2 380.4M220.2 375.2L215.0 380.4M220.2 381.8L225.4 387.0M225.4 381.8L220.2 387.0M221.4 384.2L226.6 389.4M226.6 384.2L221.4 389.4M210.1 384.1L215.3 389.3M215.3 384.1L210.1 389.3M211.3 387.9L216.5 393.1M216.5 387.9L211.3 393.1M201.6 386.2L206.8 391.4M206.8 386.2L201.6 391.4M193.4 388.0L198.6 393.2M198.6 388.0L193.4 393.2M198.0 388.4L203.2 393.6M203.2 388.4L198.0 393.6M195.4 389.7L200.6 394.9M200.6 389.7L195.4 394.9M231.4 385.4L236.6 390.6M236.6 385.4L231.4 390.6M236.1 382.5L241.3 387.7M241.3 382.5L236.1 387.7M238.3 385.4L243.5 390.6M243.5 385.4L238.3 390.6M251.8 388.8L257.0 394.0M257.0 388.8L251.8 394.0M252.7 392.2L257.9 397.4M257.9 392.2L252.7 397.4M247.0 393.7L252.2 398.9M252.2 393.7L247.0 398.9M269.5 391.6L274.7 396.8M274.7 391.6L269.5 396.8M265.9 392.2L271.1 397.4M271.1 392.2L265.9 397.4M215.8 392.2L221.0 397.4M221.0 392.2L215.8 397.4M221.0 391.4L226.2 396.6M226.2 391.4L221.0 396.6M198.0 395.6L203.2 400.8M203.2 395.6L198.0 400.8M198.9 397.9L204.1 403.1M204.1 397.9L198.9 403.1M233.9 392.1L239.1 397.3M239.1 392.1L233.9 397.3M221.4 397.5L226.6 402.7M226.6 397.5L221.4 402.7M217.0 400.4L222.2 405.6M222.2 400.4L217.0 405.6M236.0 397.0L241.2 402.2M241.2 397.0L236.0 402.2M238.0 398.2L243.2 403.4M243.2 398.2L238.0 403.4M205.7 400.2L210.9 405.4M210.9 400.2L205.7 405.4M223.0 401.0L228.2 406.2M228.2 401.0L223.0 406.2M244.5 404.5L249.7 409.7M249.7 404.5L244.5 409.7M217.5 404.8L222.7 410.0M222.7 404.8L217.5 410.0M219.7 406.3L224.9 411.5M224.9 406.3L219.7 411.5M213.7 408.8L218.9 414.0M218.9 408.8L213.7 414.0M226.2 406.0L231.4 411.2M231.4 406.0L226.2 411.2M234.6 409.8L239.8 415.0M239.8 409.8L234.6 415.0M234.0 411.2L239.2 416.4M239.2 411.2L234.0 416.4M219.9 408.5L225.1 413.7M225.1 408.5L219.9 413.7M226.6 407.8L231.8 413.0M231.8 407.8L226.6 413.0M277.0 386.9L282.2 392.1M282.2 386.9L277.0 392.1M273.2 403.5L278.4 408.7M278.4 403.5L273.2 408.7M266.2 416.1L271.4 421.3M271.4 416.1L266.2 421.3M273.7 416.7L278.9 421.9M278.9 416.7L273.7 421.9M264.0 423.4L269.2 428.6M269.2 423.4L264.0 428.6M281.4 429.3L286.6 434.5M286.6 429.3L281.4 434.5M303.9 433.1L309.1 438.3M309.1 433.1L303.9 438.3M217.6 418.7L222.8 423.9M222.8 418.7L217.6 423.9M209.9 422.8L215.1 428.0M215.1 422.8L209.9 428.0M229.5 416.1L234.7 421.3M234.7 416.1L229.5 421.3M243.4 416.6L248.6 421.8M248.6 416.6L243.4 421.8M240.8 424.8L246.0 430.0M246.0 424.8L240.8 430.0M248.4 430.5L253.6 435.7M253.6 430.5L248.4 435.7M255.0 421.7L260.2 426.9M260.2 421.7L255.0 426.9M256.8 419.4L262.0 424.6M262.0 419.4L256.8 424.6M207.9 453.9L213.1 459.1M213.1 453.9L207.9 459.1M208.6 458.4L213.8 463.6M213.8 458.4L208.6 463.6M181.5 503.2L186.7 508.4M186.7 503.2L181.5 508.4" stroke="#d62728" stroke-width="1.15" fill="none"/>
<path d="M60.40 521.0v-3.2M60.40 283.6v3.2M105.60 521.0v-3.2M105.60 283.6v3.2M150.80 521.0v-3.2M150.80 283.6v3.2M196.00 521.0v-3.2M196.00 283.6v3.2M241.20 521.0v-3.2M241.20 283.6v3.2M286.40 521.0v-3.2M286.40 283.6v3.2M331.60 521.0v-3.2M331.60 283.6v3.2" stroke="#4a4a4a" stroke-width="0.9" fill="none"/>
<path d="M71.70 521.0v-1.8M71.70 283.6v1.8M83.00 521.0v-1.8M83.00 283.6v1.8M94.30 521.0v-1.8M94.30 283.6v1.8M116.90 521.0v-1.8M116.90 283.6v1.8M128.20 521.0v-1.8M128.20 283.6v1.8M139.50 521.0v-1.8M139.50 283.6v1.8M162.10 521.0v-1.8M162.10 283.6v1.8M173.40 521.0v-1.8M173.40 283.6v1.8M184.70 521.0v-1.8M184.70 283.6v1.8M207.30 521.0v-1.8M207.30 283.6v1.8M218.60 521.0v-1.8M218.60 283.6v1.8M229.90 521.0v-1.8M229.90 283.6v1.8M252.50 521.0v-1.8M252.50 283.6v1.8M263.80 521.0v-1.8M263.80 283.6v1.8M275.10 521.0v-1.8M275.10 283.6v1.8M297.70 521.0v-1.8M297.70 283.6v1.8M309.00 521.0v-1.8M309.00 283.6v1.8M320.30 521.0v-1.8M320.30 283.6v1.8M342.90 521.0v-1.8M342.90 283.6v1.8" stroke="#4a4a4a" stroke-width="0.9" fill="none"/>
<path d="M54.5 520.98h3.2M345.5 520.98h-3.2M54.5 481.42h3.2M345.5 481.42h-3.2M54.5 441.86h3.2M345.5 441.86h-3.2M54.5 402.30h3.2M345.5 402.30h-3.2M54.5 362.74h3.2M345.5 362.74h-3.2M54.5 323.18h3.2M345.5 323.18h-3.2M54.5 283.62h3.2M345.5 283.62h-3.2" stroke="#4a4a4a" stroke-width="0.9" fill="none"/>
<path d="M54.5 511.09h1.8M345.5 511.09h-1.8M54.5 501.20h1.8M345.5 501.20h-1.8M54.5 491.31h1.8M345.5 491.31h-1.8M54.5 471.53h1.8M345.5 471.53h-1.8M54.5 461.64h1.8M345.5 461.64h-1.8M54.5 451.75h1.8M345.5 451.75h-1.8M54.5 431.97h1.8M345.5 431.97h-1.8M54.5 422.08h1.8M345.5 422.08h-1.8M54.5 412.19h1.8M345.5 412.19h-1.8M54.5 392.41h1.8M345.5 392.41h-1.8M54.5 382.52h1.8M345.5 382.52h-1.8M54.5 372.63h1.8M345.5 372.63h-1.8M54.5 352.85h1.8M345.5 352.85h-1.8M54.5 342.96h1.8M345.5 342.96h-1.8M54.5 333.07h1.8M345.5 333.07h-1.8M54.5 313.29h1.8M345.5 313.29h-1.8M54.5 303.40h1.8M345.5 303.40h-1.8M54.5 293.51h1.8M345.5 293.51h-1.8" stroke="#4a4a4a" stroke-width="0.9" fill="none"/>
<text x="60.40" y="533.00" font-size="12" text-anchor="middle" stroke="#000" stroke-width="0.1" >−0.6</text>
<text x="105.60" y="533.00" font-size="12" text-anchor="middle" stroke="#000" stroke-width="0.1" >−0.4</text>
<text x="150.80" y="533.00" font-size="12" text-anchor="middle" stroke="#000" stroke-width="0.1" >−0.2</text>
<text x="196.00" y="533.00" font-size="12" text-anchor="middle" stroke="#000" stroke-width="0.1" >0.0</text>
<text x="241.20" y="533.00" font-size="12" text-anchor="middle" stroke="#000" stroke-width="0.1" >0.2</text>
<text x="286.40" y="533.00" font-size="12" text-anchor="middle" stroke="#000" stroke-width="0.1" >0.4</text>
<text x="331.60" y="533.00" font-size="12" text-anchor="middle" stroke="#000" stroke-width="0.1" >0.6</text>
<text x="51.90" y="526.28" font-size="12" text-anchor="end" stroke="#000" stroke-width="0.1" >−0.6</text>
<text x="51.90" y="486.72" font-size="12" text-anchor="end" stroke="#000" stroke-width="0.1" >−0.4</text>
<text x="51.90" y="447.16" font-size="12" text-anchor="end" stroke="#000" stroke-width="0.1" >−0.2</text>
<text x="51.90" y="407.60" font-size="12" text-anchor="end" stroke="#000" stroke-width="0.1" >0.0</text>
<text x="51.90" y="368.04" font-size="12" text-anchor="end" stroke="#000" stroke-width="0.1" >0.2</text>
<text x="51.90" y="328.48" font-size="12" text-anchor="end" stroke="#000" stroke-width="0.1" >0.4</text>
<text x="51.90" y="288.92" font-size="12" text-anchor="end" stroke="#000" stroke-width="0.1" >0.6</text>
<circle cx="72.1" cy="296.5" r="1.25" fill="#2a7fc0"/>
<text x="88.36" y="299.10" font-size="9.2" stroke="#000" stroke-width="0.18" textLength="25.21" lengthAdjust="spacingAndGlyphs">EVQs</text>
<path d="M69.8 307.5L74.4 312.1M74.4 307.5L69.8 312.1" stroke="#d62728" stroke-width="1.15"/>
<text x="88.79" y="312.20" font-size="9.2" stroke="#000" stroke-width="0.18" textLength="23.58" lengthAdjust="spacingAndGlyphs">CLQs</text>
<text x="229.33" y="302.30" font-size="9.3" stroke="#000" stroke-width="0.18" textLength="20.70" lengthAdjust="spacingAndGlyphs">Δlog</text>
<text x="250.66" y="302.30" font-size="9.3" font-style="italic" stroke="#000" stroke-width="0.18" textLength="14.06" lengthAdjust="spacingAndGlyphs">EW</text>
<text x="265.21" y="303.90" font-size="6.5" font-style="italic" stroke="#000" stroke-width="0.18" textLength="9.51" lengthAdjust="spacingAndGlyphs">Hb</text>
<text x="277.12" y="302.30" font-size="9.3" stroke="#000" stroke-width="0.18" textLength="7.79" lengthAdjust="spacingAndGlyphs">=</text>
<text x="287.17" y="302.30" font-size="9.3" font-style="italic" stroke="#000" stroke-width="0.18" textLength="5.39" lengthAdjust="spacingAndGlyphs">k</text>
<text x="292.93" y="302.30" font-size="9.3" stroke="#000" stroke-width="0.18" textLength="19.76" lengthAdjust="spacingAndGlyphs">Δlog</text>
<text x="313.74" y="302.30" font-size="9.3" font-style="italic" stroke="#000" stroke-width="0.18" textLength="5.18" lengthAdjust="spacingAndGlyphs">L</text>
<text x="318.88" y="303.90" font-size="6.5" stroke="#000" stroke-width="0.18" textLength="16.95" lengthAdjust="spacingAndGlyphs">5100</text>
<text x="224.75" y="313.10" font-size="9.3" stroke="#000" stroke-width="0.18" textLength="28.88" lengthAdjust="spacingAndGlyphs">EVQs:</text>
<text x="255.47" y="313.10" font-size="9.3" font-style="italic" stroke="#000" stroke-width="0.18" textLength="5.39" lengthAdjust="spacingAndGlyphs">k</text>
<text x="262.72" y="313.10" font-size="9.3" stroke="#000" stroke-width="0.18" textLength="7.79" lengthAdjust="spacingAndGlyphs">=</text>
<text x="273.82" y="313.10" font-size="9.3" stroke="#000" stroke-width="0.18" textLength="7.79" lengthAdjust="spacingAndGlyphs">−</text>
<text x="283.47" y="313.10" font-size="9.3" stroke="#000" stroke-width="0.18" textLength="21.68" lengthAdjust="spacingAndGlyphs">0.35</text>
<text x="305.92" y="313.10" font-size="9.3" stroke="#000" stroke-width="0.18" textLength="7.79" lengthAdjust="spacingAndGlyphs">±</text>
<text x="313.85" y="313.10" font-size="9.3" stroke="#000" stroke-width="0.18" textLength="22.27" lengthAdjust="spacingAndGlyphs">0.03</text>
<text x="225.16" y="323.40" font-size="9.3" stroke="#000" stroke-width="0.18" textLength="28.50" lengthAdjust="spacingAndGlyphs">CLQs:</text>
<text x="255.47" y="323.40" font-size="9.3" font-style="italic" stroke="#000" stroke-width="0.18" textLength="5.39" lengthAdjust="spacingAndGlyphs">k</text>
<text x="262.72" y="323.40" font-size="9.3" stroke="#000" stroke-width="0.18" textLength="7.79" lengthAdjust="spacingAndGlyphs">=</text>
<text x="273.82" y="323.40" font-size="9.3" stroke="#000" stroke-width="0.18" textLength="7.79" lengthAdjust="spacingAndGlyphs">−</text>
<text x="283.48" y="323.40" font-size="9.3" stroke="#000" stroke-width="0.18" textLength="21.37" lengthAdjust="spacingAndGlyphs">0.04</text>
<text x="305.92" y="323.40" font-size="9.3" stroke="#000" stroke-width="0.18" textLength="7.79" lengthAdjust="spacingAndGlyphs">±</text>
<text x="313.86" y="323.40" font-size="9.3" stroke="#000" stroke-width="0.18" textLength="22.08" lengthAdjust="spacingAndGlyphs">0.06</text>
<text x="62.59" y="465.80" font-size="9.3" stroke="#000" stroke-width="0.18" textLength="36.95" lengthAdjust="spacingAndGlyphs">Pearson</text>
<text x="62.59" y="476.25" font-size="9.3" stroke="#000" stroke-width="0.18" textLength="66.17" lengthAdjust="spacingAndGlyphs">EVQs: r=-0.46</text>
<text x="62.66" y="486.70" font-size="9.3" stroke="#000" stroke-width="0.18" textLength="49.40" lengthAdjust="spacingAndGlyphs">p&lt;1.0e-05</text>
<text x="62.99" y="497.15" font-size="9.3" stroke="#000" stroke-width="0.18" textLength="59.69" lengthAdjust="spacingAndGlyphs">CLQs: r=-0.1</text>
<text x="62.66" y="507.60" font-size="9.3" stroke="#000" stroke-width="0.18" textLength="34.40" lengthAdjust="spacingAndGlyphs">p=0.24</text>
<text x="166.50" y="548.70" font-size="13.6" stroke="#000" stroke-width="0.1" textLength="30.32" lengthAdjust="spacingAndGlyphs">Δlog</text>
<text x="197.73" y="548.70" font-size="13.6" font-style="italic" stroke="#000" stroke-width="0.1" textLength="7.58" lengthAdjust="spacingAndGlyphs">L</text>
<text x="205.01" y="551.20" font-size="9.5" stroke="#000" stroke-width="0.18" textLength="26.06" lengthAdjust="spacingAndGlyphs">5100</text>
<text x="-437.00" y="17.00" font-size="13.6" transform="rotate(-90)" stroke="#000" stroke-width="0.1" textLength="30.53" lengthAdjust="spacingAndGlyphs">Δlog</text>
<text x="-405.13" y="17.00" font-size="13.6" font-style="italic" transform="rotate(-90)" stroke="#000" stroke-width="0.1" textLength="19.45" lengthAdjust="spacingAndGlyphs">EW</text>
<text x="-383.42" y="20.00" font-size="9.5" font-style="italic" transform="rotate(-90)" stroke="#000" stroke-width="0.18" textLength="15.95" lengthAdjust="spacingAndGlyphs">Hb</text>
<rect x="54.5" y="283.6" width="291.00" height="237.40" fill="none" stroke="#4a4a4a" stroke-width="1.1"/></svg></body></html>
